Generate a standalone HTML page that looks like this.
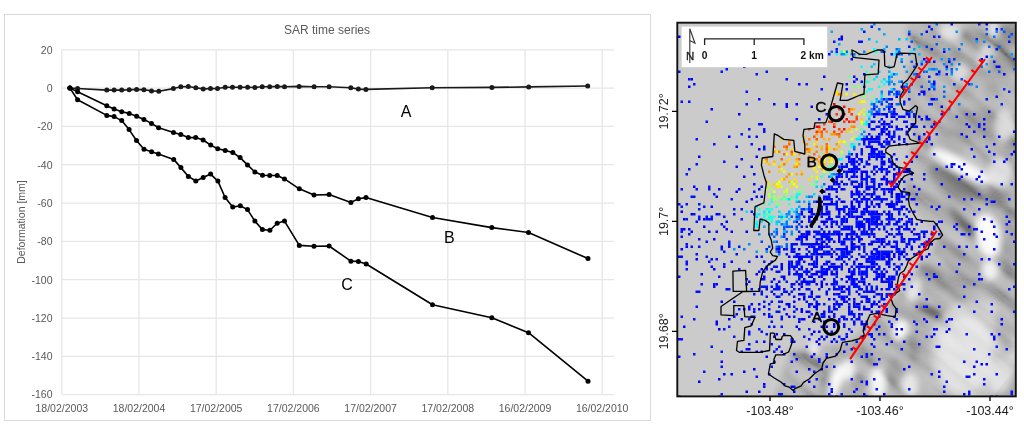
<!DOCTYPE html>
<html><head><meta charset="utf-8"><title>SAR time series</title>
<style>html,body{margin:0;padding:0;background:#fff;width:1024px;height:437px;overflow:hidden}
svg{display:block;font-family:"Liberation Sans",Arial,sans-serif}</style></head>
<body><svg width="1024" height="437" viewBox="0 0 1024 437">
<rect x="4.5" y="14.5" width="646" height="406" fill="#fff" stroke="#d9d9d9" stroke-width="1"/>
<path d="M61.8 49.8H614M61.8 88.1H614M61.8 126.4H614M61.8 164.7H614M61.8 203H614M61.8 241.4H614M61.8 279.7H614M61.8 318H614M61.8 356.3H614M61.8 394.6H614M61.8 49.8V394.6M139 49.8V394.6M216.2 49.8V394.6M293.4 49.8V394.6M370.6 49.8V394.6M447.8 49.8V394.6M525 49.8V394.6M602.2 49.8V394.6" stroke="#e6e6e6" stroke-width="1.25" fill="none"/>
<text x="52.5" y="53.6" text-anchor="end" font-size="10.5" fill="#595959">20</text>
<text x="52.5" y="91.9" text-anchor="end" font-size="10.5" fill="#595959">0</text>
<text x="52.5" y="130.2" text-anchor="end" font-size="10.5" fill="#595959">-20</text>
<text x="52.5" y="168.5" text-anchor="end" font-size="10.5" fill="#595959">-40</text>
<text x="52.5" y="206.8" text-anchor="end" font-size="10.5" fill="#595959">-60</text>
<text x="52.5" y="245.2" text-anchor="end" font-size="10.5" fill="#595959">-80</text>
<text x="52.5" y="283.5" text-anchor="end" font-size="10.5" fill="#595959">-100</text>
<text x="52.5" y="321.8" text-anchor="end" font-size="10.5" fill="#595959">-120</text>
<text x="52.5" y="360.1" text-anchor="end" font-size="10.5" fill="#595959">-140</text>
<text x="52.5" y="398.4" text-anchor="end" font-size="10.5" fill="#595959">-160</text>
<text x="61.8" y="412" text-anchor="middle" font-size="10.5" fill="#595959">18/02/2003</text>
<text x="139" y="412" text-anchor="middle" font-size="10.5" fill="#595959">18/02/2004</text>
<text x="216.2" y="412" text-anchor="middle" font-size="10.5" fill="#595959">17/02/2005</text>
<text x="293.4" y="412" text-anchor="middle" font-size="10.5" fill="#595959">17/02/2006</text>
<text x="370.6" y="412" text-anchor="middle" font-size="10.5" fill="#595959">17/02/2007</text>
<text x="447.8" y="412" text-anchor="middle" font-size="10.5" fill="#595959">17/02/2008</text>
<text x="525" y="412" text-anchor="middle" font-size="10.5" fill="#595959">16/02/2009</text>
<text x="602.2" y="412" text-anchor="middle" font-size="10.5" fill="#595959">16/02/2010</text>
<text x="327" y="34" text-anchor="middle" font-size="12" fill="#595959">SAR time series</text>
<text transform="translate(24.5 222) rotate(-90)" text-anchor="middle" font-size="10.5" fill="#595959">Deformation [mm]</text>
<polyline points="69.9,88.1 77.6,88.5 106.8,90.1 114.1,90.1 121.7,90.1 129.2,89.7 136.6,89.4 143.9,89.7 151.5,90.9 158.8,91.2 173.4,88.6 180.8,86.7 188.3,86.5 195.8,87.7 203.2,88.9 210.5,88.6 217.5,88.5 225.2,87.3 232.5,87.3 240.1,87.3 247.6,87.3 254.9,87.5 262.2,86.7 269.7,86.7 277.3,86.4 284.5,86.7 299.1,86.4 314.1,86.7 329.1,86.7 350.8,87.7 358.4,89.1 365.9,89.4 432.2,87.7 491.9,87.4 528.7,86.9 587.7,86" fill="none" stroke="#1a1a1a" stroke-width="1.6" stroke-linejoin="round"/>
<g fill="#1a1a1a"><circle cx="69.9" cy="88.1" r="2.5"/><circle cx="77.6" cy="88.5" r="2.5"/><circle cx="106.8" cy="90.1" r="2.5"/><circle cx="114.1" cy="90.1" r="2.5"/><circle cx="121.7" cy="90.1" r="2.5"/><circle cx="129.2" cy="89.7" r="2.5"/><circle cx="136.6" cy="89.4" r="2.5"/><circle cx="143.9" cy="89.7" r="2.5"/><circle cx="151.5" cy="90.9" r="2.5"/><circle cx="158.8" cy="91.2" r="2.5"/><circle cx="173.4" cy="88.6" r="2.5"/><circle cx="180.8" cy="86.7" r="2.5"/><circle cx="188.3" cy="86.5" r="2.5"/><circle cx="195.8" cy="87.7" r="2.5"/><circle cx="203.2" cy="88.9" r="2.5"/><circle cx="210.5" cy="88.6" r="2.5"/><circle cx="217.5" cy="88.5" r="2.5"/><circle cx="225.2" cy="87.3" r="2.5"/><circle cx="232.5" cy="87.3" r="2.5"/><circle cx="240.1" cy="87.3" r="2.5"/><circle cx="247.6" cy="87.3" r="2.5"/><circle cx="254.9" cy="87.5" r="2.5"/><circle cx="262.2" cy="86.7" r="2.5"/><circle cx="269.7" cy="86.7" r="2.5"/><circle cx="277.3" cy="86.4" r="2.5"/><circle cx="284.5" cy="86.7" r="2.5"/><circle cx="299.1" cy="86.4" r="2.5"/><circle cx="314.1" cy="86.7" r="2.5"/><circle cx="329.1" cy="86.7" r="2.5"/><circle cx="350.8" cy="87.7" r="2.5"/><circle cx="358.4" cy="89.1" r="2.5"/><circle cx="365.9" cy="89.4" r="2.5"/><circle cx="432.2" cy="87.7" r="2.5"/><circle cx="491.9" cy="87.4" r="2.5"/><circle cx="528.7" cy="86.9" r="2.5"/><circle cx="587.7" cy="86" r="2.5"/></g>
<polyline points="69.9,88.1 77.6,91.7 106.8,105.8 114.1,109 121.7,111.8 129.2,113.4 136.6,116.3 143.9,119.5 151.5,123.4 158.6,127.8 173.5,132.4 180.8,134.6 188.3,137.6 195.7,137.6 203.1,140 210.7,145.1 217.7,148.8 225.2,150.4 232.8,152.5 240.1,157.6 247.5,164.9 254.9,172 262.5,175.2 269.7,175.5 277.2,175.5 284.5,178.9 299.3,188.8 314,195 329.1,194.6 350.9,202.4 358.4,198.8 366,197.6 432.5,217.5 491.8,227.6 528.5,232.5 588,258.6" fill="none" stroke="#000" stroke-width="1.6" stroke-linejoin="round"/>
<g fill="#000"><circle cx="69.9" cy="88.1" r="2.5"/><circle cx="77.6" cy="91.7" r="2.5"/><circle cx="106.8" cy="105.8" r="2.5"/><circle cx="114.1" cy="109" r="2.5"/><circle cx="121.7" cy="111.8" r="2.5"/><circle cx="129.2" cy="113.4" r="2.5"/><circle cx="136.6" cy="116.3" r="2.5"/><circle cx="143.9" cy="119.5" r="2.5"/><circle cx="151.5" cy="123.4" r="2.5"/><circle cx="158.6" cy="127.8" r="2.5"/><circle cx="173.5" cy="132.4" r="2.5"/><circle cx="180.8" cy="134.6" r="2.5"/><circle cx="188.3" cy="137.6" r="2.5"/><circle cx="195.7" cy="137.6" r="2.5"/><circle cx="203.1" cy="140" r="2.5"/><circle cx="210.7" cy="145.1" r="2.5"/><circle cx="217.7" cy="148.8" r="2.5"/><circle cx="225.2" cy="150.4" r="2.5"/><circle cx="232.8" cy="152.5" r="2.5"/><circle cx="240.1" cy="157.6" r="2.5"/><circle cx="247.5" cy="164.9" r="2.5"/><circle cx="254.9" cy="172" r="2.5"/><circle cx="262.5" cy="175.2" r="2.5"/><circle cx="269.7" cy="175.5" r="2.5"/><circle cx="277.2" cy="175.5" r="2.5"/><circle cx="284.5" cy="178.9" r="2.5"/><circle cx="299.3" cy="188.8" r="2.5"/><circle cx="314" cy="195" r="2.5"/><circle cx="329.1" cy="194.6" r="2.5"/><circle cx="350.9" cy="202.4" r="2.5"/><circle cx="358.4" cy="198.8" r="2.5"/><circle cx="366" cy="197.6" r="2.5"/><circle cx="432.5" cy="217.5" r="2.5"/><circle cx="491.8" cy="227.6" r="2.5"/><circle cx="528.5" cy="232.5" r="2.5"/><circle cx="588" cy="258.6" r="2.5"/></g>
<polyline points="69.9,88.1 77.6,99.7 106.8,115.4 114.1,116.6 121.7,120.6 129.1,129.6 136.5,140.5 144,149.2 151.6,151.7 158.4,154.1 173.7,159.4 180.9,167.6 188.4,176.4 195.8,181 203.2,177.5 210.6,174.1 217.9,181.1 225.1,197.5 232.7,207.1 240.3,205.8 247.5,209.6 254.9,221.1 262.4,229.6 269.9,230.3 277.2,223.2 284.5,221.1 299.3,245.4 314,246.2 329.1,246 350.9,261.2 358.4,261.4 366.2,264 432.5,304.8 491.8,317.8 528.5,332.7 588,381.2" fill="none" stroke="#000" stroke-width="1.6" stroke-linejoin="round"/>
<g fill="#000"><circle cx="69.9" cy="88.1" r="2.5"/><circle cx="77.6" cy="99.7" r="2.5"/><circle cx="106.8" cy="115.4" r="2.5"/><circle cx="114.1" cy="116.6" r="2.5"/><circle cx="121.7" cy="120.6" r="2.5"/><circle cx="129.1" cy="129.6" r="2.5"/><circle cx="136.5" cy="140.5" r="2.5"/><circle cx="144" cy="149.2" r="2.5"/><circle cx="151.6" cy="151.7" r="2.5"/><circle cx="158.4" cy="154.1" r="2.5"/><circle cx="173.7" cy="159.4" r="2.5"/><circle cx="180.9" cy="167.6" r="2.5"/><circle cx="188.4" cy="176.4" r="2.5"/><circle cx="195.8" cy="181" r="2.5"/><circle cx="203.2" cy="177.5" r="2.5"/><circle cx="210.6" cy="174.1" r="2.5"/><circle cx="217.9" cy="181.1" r="2.5"/><circle cx="225.1" cy="197.5" r="2.5"/><circle cx="232.7" cy="207.1" r="2.5"/><circle cx="240.3" cy="205.8" r="2.5"/><circle cx="247.5" cy="209.6" r="2.5"/><circle cx="254.9" cy="221.1" r="2.5"/><circle cx="262.4" cy="229.6" r="2.5"/><circle cx="269.9" cy="230.3" r="2.5"/><circle cx="277.2" cy="223.2" r="2.5"/><circle cx="284.5" cy="221.1" r="2.5"/><circle cx="299.3" cy="245.4" r="2.5"/><circle cx="314" cy="246.2" r="2.5"/><circle cx="329.1" cy="246" r="2.5"/><circle cx="350.9" cy="261.2" r="2.5"/><circle cx="358.4" cy="261.4" r="2.5"/><circle cx="366.2" cy="264" r="2.5"/><circle cx="432.5" cy="304.8" r="2.5"/><circle cx="491.8" cy="317.8" r="2.5"/><circle cx="528.5" cy="332.7" r="2.5"/><circle cx="588" cy="381.2" r="2.5"/></g>
<text x="406" y="116.8" text-anchor="middle" font-size="16" fill="#000">A</text>
<text x="449.3" y="243.4" text-anchor="middle" font-size="16" fill="#000">B</text>
<text x="347.1" y="290.2" text-anchor="middle" font-size="16" fill="#000">C</text>
<defs><clipPath id="mc"><rect x="678" y="23" width="338" height="373"/></clipPath><filter id="bl" x="-50%" y="-50%" width="200%" height="200%"><feGaussianBlur stdDeviation="3"/></filter></defs>
<g clip-path="url(#mc)">
<rect x="678" y="23" width="338" height="373" fill="#cbcbcb"/>
<g filter="url(#bl)">
<path d="M905 10L1030 10L1030 410L770 410L790 352L850 342L872 318L900 292L925 262L942 236L925 220L906 200L905 170L915 140L910 110L905 90L912 50Z" fill="#a6a6a6"/>
<ellipse cx="951" cy="31" rx="12.0" ry="9.0" transform="rotate(0 951 31)" fill="#dcdcdc" opacity="1"/>
<ellipse cx="976" cy="40" rx="16.8" ry="9.6" transform="rotate(20 976 40)" fill="#8e8e8e" opacity="1"/>
<ellipse cx="1008" cy="36" rx="12.0" ry="13.2" transform="rotate(0 1008 36)" fill="#7a7a7a" opacity="1"/>
<ellipse cx="994" cy="29" rx="4.0" ry="8.0" transform="rotate(0 994 29)" fill="#e6e6e6" opacity="1"/>
<ellipse cx="954" cy="57" rx="7.2" ry="7.2" transform="rotate(0 954 57)" fill="#8e8e8e" opacity="1"/>
<ellipse cx="932" cy="48" rx="8.4" ry="21.6" transform="rotate(10 932 48)" fill="#9e9e9e" opacity="1"/>
<ellipse cx="1004" cy="64" rx="14.4" ry="12.0" transform="rotate(0 1004 64)" fill="#8e8e8e" opacity="1"/>
<ellipse cx="992" cy="92" rx="9.6" ry="9.6" transform="rotate(0 992 92)" fill="#8e8e8e" opacity="1"/>
<ellipse cx="965" cy="92" rx="12.0" ry="7.2" transform="rotate(0 965 92)" fill="#969696" opacity="1"/>
<ellipse cx="960" cy="72" rx="8.0" ry="8.0" transform="rotate(0 960 72)" fill="#d8d8d8" opacity="1"/>
<ellipse cx="985" cy="55" rx="6.0" ry="12.0" transform="rotate(20 985 55)" fill="#d0d0d0" opacity="1"/>
<ellipse cx="980" cy="124" rx="24.0" ry="12.0" transform="rotate(25 980 124)" fill="#8e8e8e" opacity="1"/>
<ellipse cx="950" cy="145" rx="16.8" ry="7.2" transform="rotate(25 950 145)" fill="#8e8e8e" opacity="1"/>
<ellipse cx="960" cy="166" rx="35.0" ry="7.0" transform="rotate(29 960 166)" fill="#fafafa" opacity="1"/>
<ellipse cx="955" cy="184" rx="32.0" ry="9.5" transform="rotate(30 955 184)" fill="#6e6e6e" opacity="1"/>
<ellipse cx="956" cy="137" rx="14.0" ry="8.0" transform="rotate(25 956 137)" fill="#959595" opacity="1"/>
<ellipse cx="1005" cy="125" rx="10.0" ry="16.0" transform="rotate(0 1005 125)" fill="#d8d8d8" opacity="1"/>
<ellipse cx="1000" cy="172" rx="12.0" ry="14.0" transform="rotate(0 1000 172)" fill="#d8d8d8" opacity="1"/>
<ellipse cx="1011" cy="150" rx="7.2" ry="12.0" transform="rotate(0 1011 150)" fill="#888888" opacity="1"/>
<ellipse cx="935" cy="118" rx="9.6" ry="14.4" transform="rotate(0 935 118)" fill="#a2a2a2" opacity="1"/>
<ellipse cx="998" cy="196" rx="14.4" ry="7.2" transform="rotate(0 998 196)" fill="#878787" opacity="1"/>
<ellipse cx="966" cy="226" rx="25.2" ry="4.8" transform="rotate(47 966 226)" fill="#5e5e5e" opacity="1"/>
<ellipse cx="952" cy="250" rx="19.2" ry="4.8" transform="rotate(35 952 250)" fill="#7e7e7e" opacity="1"/>
<ellipse cx="988" cy="236" rx="12.0" ry="22.0" transform="rotate(-10 988 236)" fill="#fafafa" opacity="1"/>
<ellipse cx="1009" cy="245" rx="7.2" ry="36.0" transform="rotate(0 1009 245)" fill="#8e8e8e" opacity="1"/>
<ellipse cx="955" cy="268" rx="16.8" ry="9.6" transform="rotate(0 955 268)" fill="#9e9e9e" opacity="1"/>
<ellipse cx="990" cy="270" rx="8.0" ry="10.0" transform="rotate(0 990 270)" fill="#eeeeee" opacity="1"/>
<ellipse cx="975" cy="350" rx="45.0" ry="50.0" transform="rotate(0 975 350)" fill="#c8c8c8" opacity="1"/>
<ellipse cx="931" cy="272" rx="14.4" ry="4.2" transform="rotate(30 931 272)" fill="#686868" opacity="1"/>
<ellipse cx="914" cy="290" rx="6.0" ry="12.0" transform="rotate(20 914 290)" fill="#e0e0e0" opacity="1"/>
<ellipse cx="930" cy="311" rx="15.6" ry="6.0" transform="rotate(15 930 311)" fill="#626262" opacity="1"/>
<ellipse cx="900" cy="330" rx="7.0" ry="10.0" transform="rotate(20 900 330)" fill="#f8f8f8" opacity="1"/>
<ellipse cx="958" cy="284" rx="21.6" ry="7.2" transform="rotate(0 958 284)" fill="#8e8e8e" opacity="1"/>
<ellipse cx="965" cy="355" rx="28.0" ry="38.0" transform="rotate(0 965 355)" fill="#dedede" opacity="1"/>
<ellipse cx="914" cy="346" rx="6.0" ry="16.8" transform="rotate(0 914 346)" fill="#888888" opacity="1"/>
<ellipse cx="1006" cy="320" rx="10.8" ry="36.0" transform="rotate(0 1006 320)" fill="#a4a4a4" opacity="1"/>
<ellipse cx="1000" cy="375" rx="12.0" ry="18.0" transform="rotate(0 1000 375)" fill="#d8d8d8" opacity="1"/>
<ellipse cx="806" cy="366" rx="14.4" ry="16.8" transform="rotate(0 806 366)" fill="#a8a8a8" opacity="1"/>
<ellipse cx="814" cy="349" rx="4.0" ry="8.0" transform="rotate(0 814 349)" fill="#f0f0f0" opacity="1"/>
<ellipse cx="836" cy="380" rx="6.0" ry="17.0" transform="rotate(20 836 380)" fill="#fafafa" opacity="1"/>
<ellipse cx="824" cy="386" rx="6.0" ry="12.0" transform="rotate(0 824 386)" fill="#7e7e7e" opacity="1"/>
<ellipse cx="848" cy="370" rx="7.0" ry="10.0" transform="rotate(0 848 370)" fill="#f4f4f4" opacity="1"/>
<ellipse cx="858" cy="386" rx="7.2" ry="12.0" transform="rotate(0 858 386)" fill="#8e8e8e" opacity="1"/>
<ellipse cx="878" cy="382" rx="8.0" ry="16.0" transform="rotate(0 878 382)" fill="#f4f4f4" opacity="1"/>
<ellipse cx="894" cy="372" rx="8.4" ry="14.4" transform="rotate(0 894 372)" fill="#8a8a8a" opacity="1"/>
<ellipse cx="910" cy="385" rx="8.0" ry="12.0" transform="rotate(0 910 385)" fill="#e0e0e0" opacity="1"/>
</g>
<defs><filter id="rl" x="600" y="-100" width="500" height="600" filterUnits="userSpaceOnUse"><feTurbulence type="fractalNoise" baseFrequency="0.0125 0.04" numOctaves="2" seed="5" result="n"/><feColorMatrix in="n" type="matrix" values="0 0 0 0 0  0 0 0 0 0  0 0 0 0 0  1 0 0 0 0" result="a"/><feDiffuseLighting in="a" surfaceScale="5" diffuseConstant="1" lighting-color="#ffffff" result="l"><feDistantLight azimuth="225" elevation="40"/></feDiffuseLighting><feColorMatrix in="l" type="saturate" values="0" result="g"/><feComponentTransfer in="g"><feFuncR type="linear" slope="1.6" intercept="-0.6"/><feFuncG type="linear" slope="1.6" intercept="-0.6"/><feFuncB type="linear" slope="1.6" intercept="-0.6"/></feComponentTransfer></filter><mask id="hm" maskUnits="userSpaceOnUse" x="600" y="0" width="450" height="437"><path filter="url(#bl2)" fill="#fff" d="M905 10L1030 10L1030 410L770 410L790 352L850 342L872 318L900 292L925 262L942 236L925 220L906 200L905 170L915 140L910 110L905 90L912 50Z"/></mask><filter id="bl2" x="-20%" y="-20%" width="140%" height="140%"><feGaussianBlur stdDeviation="5"/></filter></defs>
<g mask="url(#hm)" opacity="0.45" style="mix-blend-mode:overlay"><g transform="rotate(40 940 210)"><rect x="760" y="0" width="380" height="420" filter="url(#rl)"/></g></g>
<g transform="translate(678 23) scale(2.5)">
<path fill="#0088ff" d="M78 0h1v1h-1zM127 3h1v1h-1zM122 7h1v1h-1zM113 8h1v1h-1zM83 9h1v1h-1zM108 10h1v1h-1zM74 11h1v1h-1zM65 12h1v1h-1zM69 12h1v1h-1zM87 13h1v1h-1zM106 16h1v1h-1zM109 16h1v1h-1zM90 17h1v1h-1zM101 18h1v1h-1zM107 18h1v1h-1zM84 21h1v1h-1zM84 23h1v1h-1zM84 24h1v1h-1zM117 24h1v1h-1zM101 25h2v1h-2zM119 25h1v1h-1zM81 27h1v1h-1zM77 32h1v1h-1zM77 34h1v1h-1zM77 36h1v1h-1zM74 43h1v1h-1zM60 61h1v1h-1zM53 69h1v1h-1zM48 71h1v1h-1zM44 75h1v1h-1zM43 76h1v1h-1zM48 78h1v1h-1zM32 84h1v1h-1zM45 84h1v1h-1zM28 88h1v1h-1zM41 89h1v1h-1zM39 91h1v1h-1z"/>
<path fill="#0066ff" d="M103 0h1v1h-1zM80 2h1v1h-1zM124 9h1v1h-1zM128 9h1v1h-1zM87 10h1v1h-1zM112 10h1v1h-1zM61 11h1v1h-1zM67 11h1v1h-1zM92 12h1v1h-1zM108 14h1v1h-1zM89 15h1v1h-1zM112 16h1v1h-1zM134 18h1v1h-1zM98 19h1v1h-1zM124 19h1v1h-1zM86 20h1v1h-1zM88 27h1v1h-1zM106 27h1v1h-1zM106 29h1v1h-1zM87 32h2v1h-2zM79 33h1v1h-1zM80 34h1v1h-1zM80 35h1v1h-1zM93 35h1v1h-1zM70 50h1v1h-1zM58 64h1v1h-1zM47 75h1v1h-1zM48 76h1v1h-1zM48 77h1v1h-1zM42 81h1v1h-1zM47 82h1v1h-1zM39 84h1v1h-1zM38 85h1v1h-1zM43 88h1v1h-1zM39 89h1v1h-1zM43 89h1v1h-1z"/>
<path fill="#0011ff" d="M109 0h1v1h-1zM77 1h1v1h-1zM100 1h1v1h-1zM27 2h1v1h-1zM34 3h1v1h-1zM74 3h1v1h-1zM92 4h1v1h-1zM36 5h1v1h-1zM102 5h1v1h-1zM16 6h1v1h-1zM23 6h1v1h-1zM64 6h1v1h-1zM47 7h1v1h-1zM62 7h1v1h-1zM72 7h2v1h-2zM132 7h1v1h-1zM38 8h1v1h-1zM46 9h1v1h-1zM92 9h1v1h-1zM63 10h1v1h-1zM101 10h1v1h-1zM127 10h1v1h-1zM82 11h1v1h-1zM7 12h1v1h-1zM40 12h1v1h-1zM50 12h1v1h-1zM60 12h1v1h-1zM85 12h1v1h-1zM34 13h1v1h-1zM12 14h1v1h-1zM13 15h1v1h-1zM99 15h1v1h-1zM102 15h1v1h-1zM126 15h1v1h-1zM9 16h1v1h-1zM26 17h1v1h-1zM127 17h1v1h-1zM19 18h1v1h-1zM0 19h1v1h-1zM17 19h1v1h-1zM35 19h1v1h-1zM31 20h1v1h-1zM107 20h1v1h-1zM70 21h1v1h-1zM95 21h1v1h-1zM100 21h1v1h-1zM4 22h1v1h-1zM71 22h1v1h-1zM70 23h1v1h-1zM73 23h1v1h-1zM102 23h1v1h-1zM6 24h1v1h-1zM51 24h1v1h-1zM110 24h1v1h-1zM74 25h1v1h-1zM89 25h1v1h-1zM57 26h1v1h-1zM67 26h1v1h-1zM100 26h1v1h-1zM27 27h1v1h-1zM97 27h1v1h-1zM96 28h1v1h-1zM98 28h1v1h-1zM32 30h1v1h-1zM82 30h1v1h-1zM84 30h2v1h-2zM92 30h1v1h-1zM123 30h1v1h-1zM1 31h1v1h-1zM4 31h1v1h-1zM90 31h1v1h-1zM27 32h1v1h-1zM78 34h1v1h-1zM59 36h1v1h-1zM78 36h2v1h-2zM81 36h1v1h-1zM85 36h3v1h-3zM92 36h1v1h-1zM94 36h1v1h-1zM105 36h1v1h-1zM88 37h2v1h-2zM92 37h1v1h-1zM94 37h1v1h-1zM96 37h1v1h-1zM111 37h1v1h-1zM81 38h1v1h-1zM87 38h1v1h-1zM99 38h2v1h-2zM11 39h1v1h-1zM78 39h1v1h-1zM80 39h1v1h-1zM90 39h2v1h-2zM104 39h1v1h-1zM32 40h2v1h-2zM76 40h1v1h-1zM81 40h2v1h-2zM84 40h1v1h-1zM120 40h1v1h-1zM122 40h1v1h-1zM76 41h1v1h-1zM79 41h2v1h-2zM85 41h1v1h-1zM93 41h3v1h-3zM98 41h1v1h-1zM101 41h1v1h-1zM120 41h1v1h-1zM28 42h1v1h-1zM34 42h1v1h-1zM77 42h1v1h-1zM82 42h1v1h-1zM87 42h2v1h-2zM122 42h1v1h-1zM34 43h1v1h-1zM86 43h1v1h-1zM91 43h1v1h-1zM118 43h1v1h-1zM25 44h1v1h-1zM76 44h1v1h-1zM81 44h1v1h-1zM86 44h1v1h-1zM91 44h1v1h-1zM94 44h1v1h-1zM103 44h1v1h-1zM28 45h1v1h-1zM31 45h1v1h-1zM75 45h1v1h-1zM80 45h1v1h-1zM85 45h2v1h-2zM88 45h1v1h-1zM115 45h1v1h-1zM128 45h1v1h-1zM7 46h1v1h-1zM80 46h1v1h-1zM88 46h1v1h-1zM100 46h1v1h-1zM76 47h4v1h-4zM83 47h1v1h-1zM90 47h1v1h-1zM14 48h1v1h-1zM29 48h1v1h-1zM74 48h1v1h-1zM76 48h1v1h-1zM80 48h2v1h-2zM83 48h2v1h-2zM91 48h1v1h-1zM101 48h1v1h-1zM134 48h1v1h-1zM34 49h1v1h-1zM81 49h2v1h-2zM123 49h1v1h-1zM135 49h1v1h-1zM34 50h1v1h-1zM73 50h1v1h-1zM73 51h1v1h-1zM80 51h1v1h-1zM124 51h1v1h-1zM69 52h1v1h-1zM73 52h1v1h-1zM76 52h4v1h-4zM81 52h2v1h-2zM86 52h1v1h-1zM102 52h1v1h-1zM126 52h1v1h-1zM133 52h1v1h-1zM77 53h1v1h-1zM79 53h1v1h-1zM85 53h1v1h-1zM91 53h1v1h-1zM118 53h1v1h-1zM69 54h1v1h-1zM72 54h2v1h-2zM79 54h1v1h-1zM81 54h1v1h-1zM84 54h1v1h-1zM87 54h1v1h-1zM131 54h1v1h-1zM18 55h1v1h-1zM68 55h2v1h-2zM71 55h1v1h-1zM73 55h1v1h-1zM75 55h1v1h-1zM84 55h2v1h-2zM93 55h1v1h-1zM126 55h1v1h-1zM7 56h1v1h-1zM67 56h1v1h-1zM69 56h2v1h-2zM75 56h1v1h-1zM81 56h1v1h-1zM85 56h1v1h-1zM110 56h1v1h-1zM66 57h2v1h-2zM70 57h2v1h-2zM78 57h2v1h-2zM85 57h1v1h-1zM107 57h1v1h-1zM109 57h1v1h-1zM4 58h1v1h-1zM68 58h1v1h-1zM70 58h2v1h-2zM78 58h1v1h-1zM80 58h3v1h-3zM88 58h1v1h-1zM90 58h1v1h-1zM103 58h1v1h-1zM67 59h1v1h-1zM70 59h1v1h-1zM77 59h1v1h-1zM81 59h1v1h-1zM83 59h2v1h-2zM88 59h1v1h-1zM92 59h1v1h-1zM121 59h1v1h-1zM3 60h1v1h-1zM64 60h2v1h-2zM67 60h1v1h-1zM70 60h1v1h-1zM75 60h1v1h-1zM88 60h1v1h-1zM98 60h1v1h-1zM115 60h1v1h-1zM64 61h1v1h-1zM67 61h1v1h-1zM70 61h1v1h-1zM75 61h2v1h-2zM63 62h1v1h-1zM68 62h1v1h-1zM74 62h2v1h-2zM78 62h1v1h-1zM82 62h1v1h-1zM86 62h1v1h-1zM93 62h1v1h-1zM98 62h1v1h-1zM119 62h1v1h-1zM69 63h3v1h-3zM73 63h1v1h-1zM75 63h1v1h-1zM77 63h2v1h-2zM85 63h2v1h-2zM90 63h1v1h-1zM121 63h1v1h-1zM30 64h1v1h-1zM63 64h1v1h-1zM67 64h1v1h-1zM69 64h1v1h-1zM72 64h1v1h-1zM75 64h1v1h-1zM78 64h1v1h-1zM81 64h1v1h-1zM85 64h1v1h-1zM129 64h1v1h-1zM133 64h1v1h-1zM12 65h1v1h-1zM61 65h1v1h-1zM64 65h1v1h-1zM72 65h1v1h-1zM76 65h3v1h-3zM86 65h2v1h-2zM1 66h1v1h-1zM7 66h1v1h-1zM12 66h1v1h-1zM60 66h1v1h-1zM62 66h2v1h-2zM66 66h1v1h-1zM76 66h1v1h-1zM79 66h1v1h-1zM81 66h1v1h-1zM83 66h1v1h-1zM90 66h1v1h-1zM30 67h1v1h-1zM58 67h1v1h-1zM72 67h1v1h-1zM74 67h1v1h-1zM78 67h1v1h-1zM82 67h1v1h-1zM84 67h1v1h-1zM89 67h1v1h-1zM14 68h1v1h-1zM69 68h2v1h-2zM72 68h1v1h-1zM76 68h1v1h-1zM78 68h1v1h-1zM89 68h1v1h-1zM91 68h2v1h-2zM95 68h1v1h-1zM5 69h2v1h-2zM31 69h1v1h-1zM58 69h3v1h-3zM63 69h1v1h-1zM69 69h1v1h-1zM72 69h1v1h-1zM85 69h1v1h-1zM89 69h2v1h-2zM108 69h1v1h-1zM21 70h1v1h-1zM56 70h1v1h-1zM58 70h1v1h-1zM60 70h2v1h-2zM64 70h1v1h-1zM71 70h1v1h-1zM74 70h2v1h-2zM78 70h6v1h-6zM87 70h1v1h-1zM114 70h1v1h-1zM117 70h1v1h-1zM123 70h1v1h-1zM71 71h1v1h-1zM73 71h1v1h-1zM75 71h1v1h-1zM81 71h1v1h-1zM85 71h1v1h-1zM89 71h1v1h-1zM125 71h1v1h-1zM0 72h1v1h-1zM3 72h1v1h-1zM8 72h1v1h-1zM62 72h2v1h-2zM77 72h1v1h-1zM79 72h1v1h-1zM86 72h1v1h-1zM123 72h1v1h-1zM1 73h1v1h-1zM10 73h1v1h-1zM57 73h1v1h-1zM59 73h1v1h-1zM63 73h1v1h-1zM66 73h2v1h-2zM70 73h1v1h-1zM78 73h1v1h-1zM86 73h1v1h-1zM101 73h1v1h-1zM8 74h1v1h-1zM22 74h1v1h-1zM25 74h1v1h-1zM56 74h2v1h-2zM63 74h1v1h-1zM66 74h1v1h-1zM68 74h1v1h-1zM71 74h1v1h-1zM86 74h4v1h-4zM103 74h1v1h-1zM114 74h1v1h-1zM29 75h1v1h-1zM49 75h1v1h-1zM57 75h1v1h-1zM59 75h2v1h-2zM66 75h1v1h-1zM69 75h3v1h-3zM74 75h1v1h-1zM76 75h1v1h-1zM78 75h1v1h-1zM82 75h1v1h-1zM92 75h1v1h-1zM94 75h1v1h-1zM6 76h1v1h-1zM16 76h1v1h-1zM22 76h1v1h-1zM30 76h1v1h-1zM53 76h2v1h-2zM56 76h1v1h-1zM60 76h1v1h-1zM64 76h1v1h-1zM69 76h1v1h-1zM73 76h2v1h-2zM76 76h2v1h-2zM81 76h1v1h-1zM83 76h1v1h-1zM85 76h1v1h-1zM88 76h1v1h-1zM90 76h1v1h-1zM8 77h1v1h-1zM11 77h1v1h-1zM13 77h1v1h-1zM18 77h1v1h-1zM50 77h1v1h-1zM57 77h1v1h-1zM63 77h1v1h-1zM66 77h1v1h-1zM69 77h2v1h-2zM77 77h4v1h-4zM85 77h1v1h-1zM91 77h1v1h-1zM131 77h1v1h-1zM3 78h1v1h-1zM8 78h1v1h-1zM11 78h3v1h-3zM25 78h1v1h-1zM52 78h1v1h-1zM59 78h1v1h-1zM65 78h2v1h-2zM74 78h1v1h-1zM77 78h2v1h-2zM80 78h1v1h-1zM83 78h4v1h-4zM88 78h1v1h-1zM92 78h1v1h-1zM122 78h1v1h-1zM7 79h1v1h-1zM52 79h1v1h-1zM61 79h2v1h-2zM65 79h2v1h-2zM71 79h3v1h-3zM77 79h1v1h-1zM81 79h1v1h-1zM88 79h1v1h-1zM91 79h1v1h-1zM93 79h1v1h-1zM104 79h1v1h-1zM17 80h1v1h-1zM53 80h1v1h-1zM58 80h1v1h-1zM61 80h1v1h-1zM65 80h1v1h-1zM71 80h1v1h-1zM74 80h1v1h-1zM77 80h5v1h-5zM84 80h1v1h-1zM86 80h2v1h-2zM91 80h1v1h-1zM95 80h1v1h-1zM103 80h1v1h-1zM131 80h1v1h-1zM135 80h1v1h-1zM18 81h1v1h-1zM49 81h1v1h-1zM51 81h1v1h-1zM53 81h1v1h-1zM64 81h1v1h-1zM66 81h2v1h-2zM69 81h1v1h-1zM71 81h1v1h-1zM74 81h1v1h-1zM79 81h1v1h-1zM82 81h1v1h-1zM89 81h1v1h-1zM91 81h1v1h-1zM110 81h1v1h-1zM126 81h1v1h-1zM1 82h1v1h-1zM57 82h1v1h-1zM66 82h2v1h-2zM69 82h1v1h-1zM74 82h1v1h-1zM77 82h2v1h-2zM80 82h1v1h-1zM82 82h1v1h-1zM85 82h1v1h-1zM87 82h1v1h-1zM90 82h2v1h-2zM111 82h1v1h-1zM118 82h2v1h-2zM1 83h1v1h-1zM48 83h1v1h-1zM54 83h3v1h-3zM60 83h1v1h-1zM62 83h3v1h-3zM69 83h1v1h-1zM73 83h2v1h-2zM77 83h1v1h-1zM88 83h1v1h-1zM97 83h3v1h-3zM131 83h1v1h-1zM4 84h1v1h-1zM49 84h2v1h-2zM55 84h5v1h-5zM61 84h2v1h-2zM65 84h1v1h-1zM68 84h2v1h-2zM71 84h1v1h-1zM74 84h2v1h-2zM77 84h2v1h-2zM85 84h1v1h-1zM88 84h2v1h-2zM94 84h1v1h-1zM96 84h1v1h-1zM98 84h1v1h-1zM101 84h1v1h-1zM104 84h1v1h-1zM114 84h1v1h-1zM133 84h1v1h-1zM1 85h1v1h-1zM48 85h2v1h-2zM54 85h1v1h-1zM57 85h4v1h-4zM71 85h2v1h-2zM76 85h1v1h-1zM86 85h1v1h-1zM8 86h1v1h-1zM49 86h1v1h-1zM56 86h1v1h-1zM60 86h2v1h-2zM66 86h3v1h-3zM70 86h1v1h-1zM80 86h1v1h-1zM82 86h1v1h-1zM89 86h1v1h-1zM92 86h5v1h-5zM100 86h1v1h-1zM122 86h1v1h-1zM11 87h1v1h-1zM20 87h1v1h-1zM49 87h1v1h-1zM55 87h1v1h-1zM57 87h1v1h-1zM60 87h1v1h-1zM65 87h1v1h-1zM69 87h1v1h-1zM77 87h1v1h-1zM79 87h2v1h-2zM86 87h2v1h-2zM89 87h2v1h-2zM92 87h1v1h-1zM94 87h1v1h-1zM99 87h2v1h-2zM3 88h1v1h-1zM20 88h1v1h-1zM45 88h3v1h-3zM49 88h5v1h-5zM56 88h1v1h-1zM66 88h1v1h-1zM73 88h1v1h-1zM84 88h1v1h-1zM87 88h1v1h-1zM91 88h2v1h-2zM97 88h2v1h-2zM100 88h1v1h-1zM5 89h1v1h-1zM8 89h1v1h-1zM20 89h1v1h-1zM24 89h1v1h-1zM45 89h1v1h-1zM53 89h2v1h-2zM59 89h2v1h-2zM67 89h1v1h-1zM70 89h2v1h-2zM74 89h1v1h-1zM80 89h1v1h-1zM87 89h1v1h-1zM115 89h1v1h-1zM119 89h1v1h-1zM17 90h1v1h-1zM35 90h1v1h-1zM39 90h1v1h-1zM43 90h1v1h-1zM45 90h2v1h-2zM51 90h1v1h-1zM54 90h3v1h-3zM61 90h1v1h-1zM63 90h3v1h-3zM70 90h1v1h-1zM72 90h1v1h-1zM74 90h1v1h-1zM78 90h2v1h-2zM88 90h1v1h-1zM90 90h1v1h-1zM18 91h1v1h-1zM45 91h1v1h-1zM52 91h1v1h-1zM54 91h2v1h-2zM58 91h1v1h-1zM62 91h1v1h-1zM65 91h2v1h-2zM68 91h2v1h-2zM74 91h1v1h-1zM79 91h1v1h-1zM81 91h4v1h-4zM87 91h2v1h-2zM96 91h1v1h-1zM7 92h1v1h-1zM23 92h1v1h-1zM43 92h1v1h-1zM47 92h2v1h-2zM51 92h1v1h-1zM53 92h2v1h-2zM58 92h4v1h-4zM63 92h1v1h-1zM65 92h2v1h-2zM68 92h1v1h-1zM72 92h1v1h-1zM75 92h1v1h-1zM78 92h2v1h-2zM81 92h1v1h-1zM91 92h1v1h-1zM94 92h1v1h-1zM114 92h1v1h-1zM0 93h2v1h-2zM11 93h1v1h-1zM33 93h1v1h-1zM46 93h2v1h-2zM50 93h3v1h-3zM55 93h1v1h-1zM57 93h1v1h-1zM65 93h3v1h-3zM69 93h1v1h-1zM74 93h1v1h-1zM76 93h3v1h-3zM81 93h2v1h-2zM88 93h1v1h-1zM90 93h1v1h-1zM13 94h1v1h-1zM15 94h1v1h-1zM64 94h1v1h-1zM68 94h1v1h-1zM75 94h1v1h-1zM77 94h4v1h-4zM82 94h1v1h-1zM85 94h1v1h-1zM92 94h1v1h-1zM121 94h1v1h-1zM124 94h1v1h-1zM3 95h1v1h-1zM12 95h1v1h-1zM28 95h1v1h-1zM34 95h1v1h-1zM37 95h1v1h-1zM44 95h1v1h-1zM47 95h1v1h-1zM54 95h1v1h-1zM59 95h1v1h-1zM75 95h3v1h-3zM3 96h1v1h-1zM18 96h1v1h-1zM45 96h1v1h-1zM47 96h2v1h-2zM52 96h1v1h-1zM54 96h1v1h-1zM59 96h1v1h-1zM61 96h2v1h-2zM65 96h1v1h-1zM70 96h1v1h-1zM78 96h1v1h-1zM84 96h1v1h-1zM86 96h1v1h-1zM89 96h1v1h-1zM134 96h1v1h-1zM13 97h1v1h-1zM35 97h1v1h-1zM38 97h2v1h-2zM45 97h3v1h-3zM54 97h2v1h-2zM65 97h1v1h-1zM69 97h1v1h-1zM72 97h3v1h-3zM77 97h1v1h-1zM80 97h1v1h-1zM88 97h1v1h-1zM95 97h1v1h-1zM3 98h1v1h-1zM24 98h1v1h-1zM35 98h1v1h-1zM37 98h1v1h-1zM46 98h1v1h-1zM49 98h1v1h-1zM51 98h1v1h-1zM57 98h2v1h-2zM60 98h1v1h-1zM62 98h2v1h-2zM65 98h1v1h-1zM70 98h1v1h-1zM75 98h1v1h-1zM77 98h1v1h-1zM80 98h1v1h-1zM82 98h1v1h-1zM86 98h1v1h-1zM88 98h1v1h-1zM32 99h1v1h-1zM39 99h2v1h-2zM44 99h1v1h-1zM50 99h2v1h-2zM56 99h2v1h-2zM61 99h1v1h-1zM69 99h2v1h-2zM72 99h1v1h-1zM74 99h2v1h-2zM78 99h2v1h-2zM81 99h1v1h-1zM87 99h1v1h-1zM111 99h1v1h-1zM46 100h4v1h-4zM51 100h1v1h-1zM53 100h1v1h-1zM57 100h1v1h-1zM62 100h1v1h-1zM72 100h1v1h-1zM74 100h2v1h-2zM79 100h1v1h-1zM81 100h1v1h-1zM87 100h1v1h-1zM99 100h1v1h-1zM102 100h1v1h-1zM120 100h1v1h-1zM0 101h1v1h-1zM16 101h1v1h-1zM41 101h1v1h-1zM48 101h2v1h-2zM57 101h1v1h-1zM63 101h1v1h-1zM73 101h1v1h-1zM75 101h1v1h-1zM81 101h1v1h-1zM84 101h1v1h-1zM86 101h1v1h-1zM90 101h1v1h-1zM27 102h1v1h-1zM34 102h1v1h-1zM48 102h1v1h-1zM62 102h1v1h-1zM65 102h1v1h-1zM69 102h1v1h-1zM71 102h1v1h-1zM74 102h1v1h-1zM78 102h1v1h-1zM84 102h3v1h-3zM100 102h1v1h-1zM121 102h1v1h-1zM28 103h1v1h-1zM37 103h1v1h-1zM43 103h1v1h-1zM47 103h1v1h-1zM52 103h2v1h-2zM62 103h2v1h-2zM69 103h1v1h-1zM73 103h1v1h-1zM82 103h3v1h-3zM9 104h1v1h-1zM14 104h1v1h-1zM27 104h1v1h-1zM39 104h1v1h-1zM46 104h1v1h-1zM49 104h1v1h-1zM51 104h2v1h-2zM61 104h1v1h-1zM63 104h1v1h-1zM70 104h2v1h-2zM84 104h2v1h-2zM89 104h2v1h-2zM118 104h1v1h-1zM135 104h1v1h-1zM14 105h1v1h-1zM33 105h3v1h-3zM37 105h1v1h-1zM39 105h2v1h-2zM45 105h1v1h-1zM62 105h1v1h-1zM64 105h1v1h-1zM68 105h1v1h-1zM70 105h3v1h-3zM75 105h1v1h-1zM77 105h1v1h-1zM79 105h1v1h-1zM84 105h2v1h-2zM87 105h1v1h-1zM93 105h1v1h-1zM114 105h1v1h-1zM134 105h1v1h-1zM20 106h1v1h-1zM29 106h1v1h-1zM32 106h1v1h-1zM38 106h3v1h-3zM46 106h1v1h-1zM51 106h2v1h-2zM56 106h1v1h-1zM60 106h1v1h-1zM64 106h1v1h-1zM68 106h1v1h-1zM72 106h2v1h-2zM75 106h1v1h-1zM77 106h1v1h-1zM81 106h1v1h-1zM84 106h1v1h-1zM90 106h1v1h-1zM132 106h1v1h-1zM7 107h2v1h-2zM33 107h1v1h-1zM37 107h1v1h-1zM42 107h2v1h-2zM45 107h1v1h-1zM65 107h2v1h-2zM68 107h1v1h-1zM71 107h1v1h-1zM75 107h3v1h-3zM30 108h1v1h-1zM33 108h1v1h-1zM38 108h1v1h-1zM41 108h1v1h-1zM50 108h1v1h-1zM59 108h1v1h-1zM63 108h1v1h-1zM68 108h1v1h-1zM79 108h1v1h-1zM81 108h1v1h-1zM83 108h4v1h-4zM35 109h1v1h-1zM40 109h1v1h-1zM52 109h2v1h-2zM55 109h1v1h-1zM64 109h1v1h-1zM66 109h1v1h-1zM73 109h3v1h-3zM81 109h1v1h-1zM83 109h1v1h-1zM85 109h1v1h-1zM114 109h1v1h-1zM54 110h1v1h-1zM76 110h1v1h-1zM81 110h1v1h-1zM34 111h1v1h-1zM37 111h1v1h-1zM40 111h1v1h-1zM51 111h1v1h-1zM55 111h1v1h-1zM63 111h1v1h-1zM67 111h1v1h-1zM70 111h1v1h-1zM75 111h2v1h-2zM78 111h1v1h-1zM119 111h1v1h-1zM36 112h1v1h-1zM52 112h2v1h-2zM56 112h1v1h-1zM58 112h1v1h-1zM63 112h3v1h-3zM68 112h1v1h-1zM70 112h1v1h-1zM78 112h1v1h-1zM82 112h1v1h-1zM125 112h1v1h-1zM7 113h1v1h-1zM40 113h1v1h-1zM46 113h1v1h-1zM52 113h1v1h-1zM60 113h1v1h-1zM62 113h1v1h-1zM64 113h1v1h-1zM70 113h3v1h-3zM74 113h1v1h-1zM98 113h1v1h-1zM112 113h1v1h-1zM24 114h1v1h-1zM28 114h1v1h-1zM30 114h1v1h-1zM36 114h1v1h-1zM42 114h1v1h-1zM47 114h1v1h-1zM60 114h1v1h-1zM62 114h2v1h-2zM68 114h1v1h-1zM72 114h1v1h-1zM87 114h1v1h-1zM39 115h2v1h-2zM46 115h1v1h-1zM52 115h1v1h-1zM60 115h1v1h-1zM68 115h1v1h-1zM79 115h1v1h-1zM118 115h1v1h-1zM134 115h1v1h-1zM23 116h1v1h-1zM36 116h1v1h-1zM53 116h1v1h-1zM58 116h1v1h-1zM62 116h1v1h-1zM68 116h3v1h-3zM73 116h1v1h-1zM1 117h1v1h-1zM22 117h1v1h-1zM30 117h1v1h-1zM36 117h1v1h-1zM41 117h1v1h-1zM46 117h1v1h-1zM57 117h2v1h-2zM62 117h1v1h-1zM65 117h2v1h-2zM70 117h1v1h-1zM72 117h1v1h-1zM80 117h1v1h-1zM103 117h1v1h-1zM6 118h1v1h-1zM25 118h1v1h-1zM28 118h1v1h-1zM41 118h1v1h-1zM48 118h1v1h-1zM56 118h1v1h-1zM61 118h1v1h-1zM67 118h1v1h-1zM69 118h1v1h-1zM71 118h1v1h-1zM87 118h1v1h-1zM108 118h1v1h-1zM37 119h1v1h-1zM54 119h1v1h-1zM58 119h1v1h-1zM73 119h1v1h-1zM84 119h1v1h-1zM94 119h1v1h-1zM29 120h1v1h-1zM66 120h1v1h-1zM70 120h1v1h-1zM74 120h1v1h-1zM78 120h1v1h-1zM85 120h1v1h-1zM95 120h1v1h-1zM20 121h1v1h-1zM36 121h1v1h-1zM38 121h1v1h-1zM41 121h1v1h-1zM66 121h1v1h-1zM80 121h1v1h-1zM18 122h1v1h-1zM32 122h1v1h-1zM48 122h1v1h-1zM52 122h1v1h-1zM68 122h1v1h-1zM79 122h1v1h-1zM87 122h1v1h-1zM103 122h1v1h-1zM28 123h1v1h-1zM33 123h1v1h-1zM59 123h1v1h-1zM61 123h1v1h-1zM95 123h1v1h-1zM28 124h1v1h-1zM35 124h1v1h-1zM53 124h1v1h-1zM67 124h1v1h-1zM76 124h2v1h-2zM80 124h1v1h-1zM102 124h1v1h-1zM115 124h1v1h-1zM22 125h1v1h-1zM38 125h1v1h-1zM50 125h1v1h-1zM57 125h1v1h-1zM59 125h1v1h-1zM64 125h1v1h-1zM73 125h2v1h-2zM77 125h1v1h-1zM101 125h1v1h-1zM126 125h1v1h-1zM0 126h2v1h-2zM45 126h1v1h-1zM52 126h1v1h-1zM62 126h1v1h-1zM65 126h1v1h-1zM78 126h1v1h-1zM31 127h1v1h-1zM45 127h1v1h-1zM63 127h1v1h-1zM71 127h1v1h-1zM28 128h1v1h-1zM67 128h1v1h-1zM77 128h1v1h-1zM96 128h1v1h-1zM13 129h1v1h-1zM40 129h1v1h-1zM51 129h1v1h-1zM78 129h1v1h-1zM103 129h1v1h-1zM127 129h1v1h-1zM27 130h1v1h-1zM39 130h1v1h-1zM69 130h1v1h-1zM118 130h1v1h-1zM131 130h1v1h-1zM17 131h1v1h-1zM25 131h1v1h-1zM38 131h1v1h-1zM6 132h1v1h-1zM46 132h1v1h-1zM54 132h1v1h-1zM59 132h1v1h-1zM75 132h1v1h-1zM77 132h1v1h-1zM124 132h1v1h-1zM0 133h1v1h-1zM73 133h1v1h-1zM75 133h1v1h-1zM56 134h1v1h-1zM80 134h1v1h-1zM38 135h1v1h-1zM45 135h1v1h-1zM56 135h1v1h-1zM69 135h1v1h-1zM114 135h1v1h-1zM119 135h1v1h-1zM78 136h2v1h-2zM17 137h1v1h-1zM37 137h1v1h-1zM59 137h1v1h-1zM62 137h1v1h-1zM10 139h1v1h-1zM54 139h1v1h-1zM36 140h1v1h-1zM118 140h1v1h-1zM31 141h1v1h-1zM115 141h2v1h-2zM55 142h1v1h-1zM69 142h1v1h-1zM78 142h1v1h-1zM122 142h1v1h-1zM73 143h1v1h-1zM107 143h1v1h-1zM42 144h1v1h-1zM75 144h1v1h-1zM122 144h1v1h-1zM34 145h1v1h-1zM46 145h1v1h-1zM54 145h1v1h-1zM106 145h1v1h-1zM61 146h1v1h-1zM79 146h1v1h-1zM92 146h1v1h-1zM70 147h1v1h-1zM106 147h1v1h-1zM116 147h1v1h-1zM133 147h1v1h-1zM17 148h1v1h-1zM40 148h2v1h-2zM60 148h1v1h-1zM65 148h1v1h-1zM116 148h1v1h-1zM133 148h1v1h-1zM16 149h1v1h-1zM61 149h1v1h-1zM125 149h1v1h-1z"/>
<path fill="#0022ff" d="M120 0h1v1h-1zM101 2h1v1h-1zM127 2h1v1h-1zM104 5h1v1h-1zM119 6h1v1h-1zM63 11h1v1h-1zM134 14h1v1h-1zM135 16h1v1h-1zM96 21h1v1h-1zM93 24h1v1h-1zM87 27h1v1h-1zM132 27h1v1h-1zM87 28h1v1h-1zM90 32h1v1h-1zM100 32h2v1h-2zM129 32h1v1h-1zM84 33h2v1h-2zM91 35h1v1h-1zM65 56h1v1h-1zM50 74h1v1h-1zM52 74h1v1h-1zM47 77h1v1h-1zM42 84h1v1h-1zM43 86h1v1h-1zM40 89h1v1h-1zM36 96h1v1h-1z"/>
<path fill="#0000ff" d="M123 0h1v1h-1zM99 3h1v1h-1zM49 4h1v1h-1zM0 5h1v1h-1zM65 5h1v1h-1zM65 6h1v1h-1zM18 7h1v1h-1zM28 7h1v1h-1zM35 8h1v1h-1zM45 10h1v1h-1zM6 11h1v1h-1zM106 11h1v1h-1zM123 13h1v1h-1zM69 14h1v1h-1zM98 14h1v1h-1zM121 14h1v1h-1zM108 15h1v1h-1zM107 17h1v1h-1zM128 17h1v1h-1zM104 19h1v1h-1zM74 20h1v1h-1zM103 20h1v1h-1zM130 20h1v1h-1zM58 21h1v1h-1zM5 22h1v1h-1zM43 22h1v1h-1zM48 24h1v1h-1zM67 24h1v1h-1zM102 24h1v1h-1zM4 25h1v1h-1zM98 27h1v1h-1zM127 29h1v1h-1zM101 30h2v1h-2zM38 32h1v1h-1zM43 32h1v1h-1zM47 32h1v1h-1zM43 33h1v1h-1zM53 33h1v1h-1zM13 34h1v1h-1zM86 35h1v1h-1zM24 36h1v1h-1zM80 36h1v1h-1zM82 36h2v1h-2zM91 36h1v1h-1zM115 36h1v1h-1zM118 36h1v1h-1zM78 37h1v1h-1zM83 37h1v1h-1zM85 37h2v1h-2zM90 37h1v1h-1zM99 37h1v1h-1zM47 38h1v1h-1zM56 38h1v1h-1zM97 38h1v1h-1zM122 38h1v1h-1zM77 39h1v1h-1zM82 39h1v1h-1zM85 39h1v1h-1zM83 40h1v1h-1zM93 40h2v1h-2zM102 40h1v1h-1zM115 40h1v1h-1zM82 41h1v1h-1zM84 41h1v1h-1zM87 41h1v1h-1zM91 41h1v1h-1zM116 41h1v1h-1zM78 42h1v1h-1zM81 42h1v1h-1zM83 42h1v1h-1zM89 42h1v1h-1zM92 42h1v1h-1zM81 43h2v1h-2zM84 43h1v1h-1zM134 43h1v1h-1zM80 44h1v1h-1zM83 44h2v1h-2zM98 44h1v1h-1zM113 44h1v1h-1zM20 45h1v1h-1zM77 45h1v1h-1zM79 45h1v1h-1zM84 45h1v1h-1zM96 45h1v1h-1zM100 45h1v1h-1zM122 45h1v1h-1zM135 45h1v1h-1zM74 46h6v1h-6zM83 46h1v1h-1zM85 46h1v1h-1zM90 46h1v1h-1zM96 46h1v1h-1zM74 47h1v1h-1zM80 47h1v1h-1zM82 47h1v1h-1zM84 47h1v1h-1zM86 47h1v1h-1zM99 47h1v1h-1zM88 48h1v1h-1zM126 48h1v1h-1zM23 49h1v1h-1zM75 49h3v1h-3zM32 50h1v1h-1zM77 50h3v1h-3zM117 50h1v1h-1zM77 51h2v1h-2zM81 51h1v1h-1zM134 51h1v1h-1zM71 52h1v1h-1zM80 52h1v1h-1zM8 53h1v1h-1zM31 53h1v1h-1zM68 53h1v1h-1zM71 53h1v1h-1zM76 53h1v1h-1zM78 53h1v1h-1zM80 53h3v1h-3zM95 53h1v1h-1zM25 54h1v1h-1zM68 54h1v1h-1zM70 54h1v1h-1zM76 54h1v1h-1zM70 55h1v1h-1zM81 55h2v1h-2zM130 55h1v1h-1zM72 56h1v1h-1zM76 56h1v1h-1zM82 56h1v1h-1zM86 56h1v1h-1zM109 56h1v1h-1zM114 56h1v1h-1zM23 57h1v1h-1zM29 57h1v1h-1zM65 57h1v1h-1zM74 57h1v1h-1zM81 57h1v1h-1zM84 57h1v1h-1zM87 57h1v1h-1zM112 57h1v1h-1zM65 58h1v1h-1zM69 58h1v1h-1zM72 58h1v1h-1zM83 58h1v1h-1zM86 58h1v1h-1zM91 58h2v1h-2zM113 58h1v1h-1zM66 59h1v1h-1zM68 59h2v1h-2zM71 59h1v1h-1zM73 59h3v1h-3zM79 59h1v1h-1zM90 59h2v1h-2zM30 60h1v1h-1zM73 60h1v1h-1zM78 60h1v1h-1zM83 60h1v1h-1zM86 60h2v1h-2zM93 60h1v1h-1zM26 61h1v1h-1zM63 61h1v1h-1zM65 61h1v1h-1zM69 61h1v1h-1zM71 61h1v1h-1zM73 61h1v1h-1zM82 61h1v1h-1zM86 61h1v1h-1zM113 61h1v1h-1zM120 61h1v1h-1zM73 62h1v1h-1zM77 62h1v1h-1zM81 62h1v1h-1zM83 62h1v1h-1zM89 62h1v1h-1zM112 62h1v1h-1zM62 63h2v1h-2zM65 63h1v1h-1zM83 63h2v1h-2zM88 63h1v1h-1zM62 64h1v1h-1zM64 64h1v1h-1zM66 64h1v1h-1zM73 64h1v1h-1zM80 64h1v1h-1zM83 64h1v1h-1zM87 64h1v1h-1zM105 64h1v1h-1zM6 65h1v1h-1zM33 65h1v1h-1zM60 65h1v1h-1zM70 65h2v1h-2zM73 65h1v1h-1zM75 65h1v1h-1zM80 65h1v1h-1zM94 65h1v1h-1zM16 66h1v1h-1zM24 66h1v1h-1zM32 66h1v1h-1zM61 66h1v1h-1zM65 66h1v1h-1zM71 66h1v1h-1zM75 66h1v1h-1zM78 66h1v1h-1zM82 66h1v1h-1zM84 66h3v1h-3zM96 66h1v1h-1zM23 67h1v1h-1zM63 67h1v1h-1zM69 67h1v1h-1zM71 67h1v1h-1zM85 67h1v1h-1zM60 68h1v1h-1zM71 68h1v1h-1zM73 68h1v1h-1zM75 68h1v1h-1zM77 68h1v1h-1zM82 68h1v1h-1zM85 68h1v1h-1zM87 68h2v1h-2zM120 68h1v1h-1zM15 69h1v1h-1zM33 69h1v1h-1zM74 69h1v1h-1zM77 69h1v1h-1zM79 69h2v1h-2zM87 69h2v1h-2zM29 70h1v1h-1zM59 70h1v1h-1zM70 70h1v1h-1zM73 70h1v1h-1zM76 70h1v1h-1zM88 70h1v1h-1zM91 70h1v1h-1zM93 70h2v1h-2zM132 70h1v1h-1zM27 71h1v1h-1zM56 71h2v1h-2zM61 71h1v1h-1zM63 71h1v1h-1zM65 71h2v1h-2zM69 71h1v1h-1zM72 71h1v1h-1zM77 71h1v1h-1zM87 71h2v1h-2zM126 71h1v1h-1zM56 72h1v1h-1zM58 72h4v1h-4zM69 72h1v1h-1zM72 72h1v1h-1zM75 72h1v1h-1zM80 72h1v1h-1zM83 72h3v1h-3zM87 72h1v1h-1zM95 72h1v1h-1zM13 73h1v1h-1zM69 73h1v1h-1zM72 73h1v1h-1zM75 73h2v1h-2zM80 73h1v1h-1zM84 73h2v1h-2zM89 73h2v1h-2zM104 73h1v1h-1zM135 73h1v1h-1zM53 74h1v1h-1zM59 74h1v1h-1zM64 74h2v1h-2zM69 74h2v1h-2zM74 74h2v1h-2zM91 74h1v1h-1zM120 74h1v1h-1zM1 75h1v1h-1zM52 75h2v1h-2zM64 75h1v1h-1zM68 75h1v1h-1zM73 75h1v1h-1zM75 75h1v1h-1zM77 75h1v1h-1zM79 75h1v1h-1zM84 75h1v1h-1zM88 75h1v1h-1zM5 76h1v1h-1zM15 76h1v1h-1zM49 76h1v1h-1zM57 76h3v1h-3zM67 76h2v1h-2zM78 76h3v1h-3zM84 76h1v1h-1zM118 76h1v1h-1zM52 77h2v1h-2zM55 77h1v1h-1zM60 77h1v1h-1zM64 77h1v1h-1zM68 77h1v1h-1zM71 77h3v1h-3zM84 77h1v1h-1zM2 78h1v1h-1zM10 78h1v1h-1zM54 78h2v1h-2zM60 78h2v1h-2zM67 78h1v1h-1zM71 78h1v1h-1zM75 78h2v1h-2zM79 78h1v1h-1zM89 78h1v1h-1zM93 78h1v1h-1zM19 79h1v1h-1zM47 79h1v1h-1zM49 79h1v1h-1zM53 79h2v1h-2zM57 79h3v1h-3zM63 79h1v1h-1zM67 79h1v1h-1zM75 79h2v1h-2zM78 79h2v1h-2zM84 79h1v1h-1zM87 79h1v1h-1zM92 79h1v1h-1zM97 79h1v1h-1zM105 79h1v1h-1zM125 79h1v1h-1zM132 79h1v1h-1zM63 80h1v1h-1zM72 80h2v1h-2zM76 80h1v1h-1zM83 80h1v1h-1zM90 80h1v1h-1zM93 80h1v1h-1zM111 80h1v1h-1zM10 81h1v1h-1zM56 81h1v1h-1zM59 81h1v1h-1zM61 81h1v1h-1zM68 81h1v1h-1zM72 81h2v1h-2zM76 81h1v1h-1zM88 81h1v1h-1zM102 81h1v1h-1zM116 81h1v1h-1zM2 82h1v1h-1zM4 82h1v1h-1zM19 82h1v1h-1zM65 82h1v1h-1zM68 82h1v1h-1zM72 82h1v1h-1zM76 82h1v1h-1zM88 82h1v1h-1zM92 82h1v1h-1zM94 82h1v1h-1zM102 82h1v1h-1zM135 82h1v1h-1zM5 83h1v1h-1zM12 83h1v1h-1zM15 83h1v1h-1zM21 83h1v1h-1zM27 83h1v1h-1zM51 83h2v1h-2zM58 83h1v1h-1zM70 83h1v1h-1zM75 83h1v1h-1zM83 83h1v1h-1zM93 83h1v1h-1zM121 83h1v1h-1zM51 84h2v1h-2zM60 84h1v1h-1zM63 84h2v1h-2zM67 84h1v1h-1zM70 84h1v1h-1zM73 84h1v1h-1zM76 84h1v1h-1zM84 84h1v1h-1zM87 84h1v1h-1zM95 84h1v1h-1zM113 84h1v1h-1zM116 84h1v1h-1zM126 84h1v1h-1zM135 84h1v1h-1zM50 85h2v1h-2zM64 85h1v1h-1zM67 85h1v1h-1zM69 85h1v1h-1zM78 85h1v1h-1zM83 85h1v1h-1zM89 85h1v1h-1zM96 85h1v1h-1zM98 85h1v1h-1zM127 85h1v1h-1zM14 86h1v1h-1zM47 86h2v1h-2zM51 86h1v1h-1zM55 86h1v1h-1zM57 86h1v1h-1zM59 86h1v1h-1zM64 86h1v1h-1zM69 86h1v1h-1zM72 86h2v1h-2zM79 86h1v1h-1zM81 86h1v1h-1zM90 86h1v1h-1zM135 86h1v1h-1zM58 87h1v1h-1zM62 87h1v1h-1zM64 87h1v1h-1zM66 87h1v1h-1zM72 87h1v1h-1zM78 87h1v1h-1zM81 87h2v1h-2zM84 87h1v1h-1zM134 87h1v1h-1zM54 88h2v1h-2zM57 88h1v1h-1zM59 88h1v1h-1zM65 88h1v1h-1zM69 88h2v1h-2zM74 88h1v1h-1zM76 88h2v1h-2zM81 88h1v1h-1zM83 88h1v1h-1zM99 88h1v1h-1zM101 88h1v1h-1zM3 89h1v1h-1zM17 89h1v1h-1zM52 89h1v1h-1zM56 89h3v1h-3zM69 89h1v1h-1zM72 89h1v1h-1zM82 89h1v1h-1zM85 89h2v1h-2zM91 89h1v1h-1zM93 89h1v1h-1zM96 89h1v1h-1zM98 89h1v1h-1zM106 89h1v1h-1zM112 89h1v1h-1zM1 90h1v1h-1zM48 90h1v1h-1zM57 90h1v1h-1zM66 90h2v1h-2zM69 90h1v1h-1zM87 90h1v1h-1zM93 90h1v1h-1zM126 90h1v1h-1zM40 91h1v1h-1zM46 91h1v1h-1zM59 91h2v1h-2zM67 91h1v1h-1zM77 91h1v1h-1zM80 91h1v1h-1zM85 91h1v1h-1zM89 91h2v1h-2zM55 92h3v1h-3zM67 92h1v1h-1zM77 92h1v1h-1zM80 92h1v1h-1zM82 92h3v1h-3zM86 92h1v1h-1zM88 92h2v1h-2zM95 92h1v1h-1zM100 92h1v1h-1zM31 93h1v1h-1zM44 93h1v1h-1zM48 93h2v1h-2zM53 93h1v1h-1zM61 93h1v1h-1zM64 93h1v1h-1zM73 93h1v1h-1zM79 93h2v1h-2zM83 93h2v1h-2zM86 93h1v1h-1zM97 93h1v1h-1zM99 93h1v1h-1zM7 94h1v1h-1zM48 94h2v1h-2zM53 94h1v1h-1zM55 94h1v1h-1zM63 94h1v1h-1zM65 94h1v1h-1zM71 94h1v1h-1zM76 94h1v1h-1zM81 94h1v1h-1zM84 94h1v1h-1zM88 94h1v1h-1zM91 94h1v1h-1zM97 94h1v1h-1zM21 95h1v1h-1zM45 95h1v1h-1zM48 95h1v1h-1zM50 95h1v1h-1zM55 95h1v1h-1zM60 95h1v1h-1zM66 95h1v1h-1zM70 95h1v1h-1zM78 95h1v1h-1zM83 95h2v1h-2zM41 96h1v1h-1zM44 96h1v1h-1zM53 96h1v1h-1zM55 96h1v1h-1zM58 96h1v1h-1zM67 96h1v1h-1zM72 96h2v1h-2zM77 96h1v1h-1zM79 96h1v1h-1zM83 96h1v1h-1zM104 96h1v1h-1zM112 96h1v1h-1zM128 96h1v1h-1zM18 97h1v1h-1zM41 97h1v1h-1zM44 97h1v1h-1zM49 97h1v1h-1zM57 97h1v1h-1zM60 97h5v1h-5zM71 97h1v1h-1zM75 97h2v1h-2zM78 97h1v1h-1zM84 97h1v1h-1zM87 97h1v1h-1zM14 98h1v1h-1zM33 98h1v1h-1zM41 98h1v1h-1zM44 98h1v1h-1zM48 98h1v1h-1zM53 98h1v1h-1zM59 98h1v1h-1zM68 98h1v1h-1zM72 98h1v1h-1zM79 98h1v1h-1zM34 99h1v1h-1zM47 99h1v1h-1zM52 99h1v1h-1zM55 99h1v1h-1zM58 99h2v1h-2zM63 99h1v1h-1zM68 99h1v1h-1zM73 99h1v1h-1zM83 99h1v1h-1zM92 99h1v1h-1zM9 100h1v1h-1zM31 100h1v1h-1zM44 100h1v1h-1zM54 100h2v1h-2zM58 100h2v1h-2zM61 100h1v1h-1zM63 100h1v1h-1zM69 100h2v1h-2zM73 100h1v1h-1zM80 100h1v1h-1zM82 100h1v1h-1zM93 100h1v1h-1zM34 101h1v1h-1zM42 101h1v1h-1zM52 101h2v1h-2zM56 101h1v1h-1zM67 101h3v1h-3zM79 101h2v1h-2zM82 101h1v1h-1zM85 101h1v1h-1zM102 101h2v1h-2zM33 102h1v1h-1zM38 102h1v1h-1zM42 102h1v1h-1zM50 102h1v1h-1zM54 102h1v1h-1zM58 102h1v1h-1zM68 102h1v1h-1zM70 102h1v1h-1zM73 102h1v1h-1zM79 102h1v1h-1zM81 102h1v1h-1zM83 102h1v1h-1zM92 102h1v1h-1zM120 102h1v1h-1zM40 103h1v1h-1zM49 103h3v1h-3zM54 103h1v1h-1zM57 103h1v1h-1zM67 103h1v1h-1zM70 103h1v1h-1zM72 103h1v1h-1zM74 103h1v1h-1zM81 103h1v1h-1zM85 103h1v1h-1zM15 104h1v1h-1zM45 104h1v1h-1zM48 104h1v1h-1zM55 104h1v1h-1zM57 104h1v1h-1zM59 104h1v1h-1zM62 104h1v1h-1zM69 104h1v1h-1zM74 104h1v1h-1zM76 104h1v1h-1zM49 105h1v1h-1zM57 105h1v1h-1zM65 105h2v1h-2zM19 106h1v1h-1zM35 106h1v1h-1zM42 106h1v1h-1zM48 106h1v1h-1zM62 106h2v1h-2zM65 106h1v1h-1zM67 106h1v1h-1zM79 106h1v1h-1zM83 106h1v1h-1zM86 106h1v1h-1zM53 107h1v1h-1zM59 107h1v1h-1zM74 107h1v1h-1zM78 107h1v1h-1zM44 108h1v1h-1zM48 108h2v1h-2zM53 108h1v1h-1zM62 108h1v1h-1zM64 108h1v1h-1zM72 108h1v1h-1zM80 108h1v1h-1zM96 108h1v1h-1zM39 109h1v1h-1zM46 109h1v1h-1zM50 109h1v1h-1zM56 109h1v1h-1zM65 109h1v1h-1zM67 109h1v1h-1zM78 109h1v1h-1zM48 110h1v1h-1zM50 110h1v1h-1zM60 110h1v1h-1zM62 110h1v1h-1zM65 110h2v1h-2zM68 110h1v1h-1zM70 110h1v1h-1zM75 110h1v1h-1zM82 110h1v1h-1zM99 110h1v1h-1zM17 111h1v1h-1zM22 111h1v1h-1zM41 111h1v1h-1zM46 111h1v1h-1zM66 111h1v1h-1zM73 111h1v1h-1zM80 111h1v1h-1zM29 112h1v1h-1zM32 112h1v1h-1zM43 112h2v1h-2zM55 112h1v1h-1zM62 112h1v1h-1zM71 112h2v1h-2zM77 112h1v1h-1zM79 112h1v1h-1zM83 112h1v1h-1zM135 112h1v1h-1zM28 113h1v1h-1zM34 113h1v1h-1zM44 113h1v1h-1zM54 113h2v1h-2zM68 113h1v1h-1zM77 113h1v1h-1zM80 113h1v1h-1zM95 113h1v1h-1zM99 113h1v1h-1zM104 113h1v1h-1zM26 114h1v1h-1zM32 114h1v1h-1zM49 114h1v1h-1zM55 114h1v1h-1zM74 114h3v1h-3zM83 114h1v1h-1zM30 115h1v1h-1zM49 115h1v1h-1zM51 115h1v1h-1zM58 115h1v1h-1zM61 115h1v1h-1zM69 115h1v1h-1zM77 115h1v1h-1zM80 115h1v1h-1zM83 115h1v1h-1zM87 115h1v1h-1zM125 115h1v1h-1zM34 116h1v1h-1zM43 116h1v1h-1zM55 116h1v1h-1zM57 116h1v1h-1zM72 116h1v1h-1zM80 116h1v1h-1zM29 117h1v1h-1zM37 117h1v1h-1zM44 117h1v1h-1zM52 117h1v1h-1zM60 117h1v1h-1zM86 117h1v1h-1zM20 118h1v1h-1zM49 118h2v1h-2zM64 118h1v1h-1zM66 118h1v1h-1zM72 118h1v1h-1zM98 118h1v1h-1zM109 118h1v1h-1zM129 118h1v1h-1zM15 119h1v1h-1zM48 119h1v1h-1zM64 119h1v1h-1zM70 119h1v1h-1zM75 119h1v1h-1zM99 119h1v1h-1zM107 119h1v1h-1zM15 120h1v1h-1zM62 120h1v1h-1zM73 120h1v1h-1zM75 120h1v1h-1zM129 120h1v1h-1zM2 121h1v1h-1zM47 121h1v1h-1zM57 121h1v1h-1zM59 121h1v1h-1zM62 121h1v1h-1zM74 121h1v1h-1zM85 121h1v1h-1zM16 122h1v1h-1zM74 122h1v1h-1zM89 122h1v1h-1zM102 122h1v1h-1zM108 122h1v1h-1zM135 122h1v1h-1zM54 123h1v1h-1zM56 123h1v1h-1zM69 123h1v1h-1zM107 123h1v1h-1zM39 124h1v1h-1zM42 124h1v1h-1zM82 124h1v1h-1zM87 124h1v1h-1zM125 124h1v1h-1zM128 124h1v1h-1zM67 125h1v1h-1zM99 125h1v1h-1zM56 126h1v1h-1zM58 126h1v1h-1zM66 126h1v1h-1zM126 126h1v1h-1zM34 127h1v1h-1zM46 127h1v1h-1zM55 127h1v1h-1zM61 127h1v1h-1zM85 127h1v1h-1zM90 127h1v1h-1zM37 128h1v1h-1zM56 128h1v1h-1zM83 128h1v1h-1zM104 129h1v1h-1zM28 130h1v1h-1zM89 130h1v1h-1zM31 131h1v1h-1zM33 131h1v1h-1zM41 131h1v1h-1zM66 131h1v1h-1zM42 132h1v1h-1zM63 132h1v1h-1zM35 133h1v1h-1zM53 133h1v1h-1zM59 133h1v1h-1zM47 134h1v1h-1zM17 135h1v1h-1zM121 136h1v1h-1zM123 136h1v1h-1zM92 137h1v1h-1zM118 137h1v1h-1zM30 138h1v1h-1zM52 138h1v1h-1zM57 138h1v1h-1zM90 138h1v1h-1zM26 139h1v1h-1zM47 139h1v1h-1zM104 139h1v1h-1zM18 140h1v1h-1zM21 140h1v1h-1zM101 140h1v1h-1zM127 140h1v1h-1zM104 141h1v1h-1zM16 142h1v1h-1zM8 143h1v1h-1zM52 143h1v1h-1zM75 143h1v1h-1zM34 144h1v1h-1zM60 144h1v1h-1zM45 145h1v1h-1zM71 146h1v1h-1zM27 147h1v1h-1zM32 147h1v1h-1zM46 147h1v1h-1zM61 147h1v1h-1zM74 148h1v1h-1zM82 148h1v1h-1zM114 148h1v1h-1zM0 149h1v1h-1zM63 149h1v1h-1zM75 149h1v1h-1zM127 149h1v1h-1z"/>
<path fill="#00aaff" d="M73 2h1v1h-1zM61 3h1v1h-1zM82 4h1v1h-1zM119 7h1v1h-1zM64 8h1v1h-1zM88 10h1v1h-1zM70 13h1v1h-1zM89 14h1v1h-1zM97 15h1v1h-1zM100 18h1v1h-1zM103 18h1v1h-1zM84 19h1v1h-1zM84 22h1v1h-1zM88 23h1v1h-1zM76 35h1v1h-1zM76 38h1v1h-1zM74 45h1v1h-1zM50 71h1v1h-1zM48 73h1v1h-1zM47 76h1v1h-1zM40 77h1v1h-1zM36 80h1v1h-1zM34 81h1v1h-1z"/>
<path fill="#0055ff" d="M123 2h1v1h-1zM130 3h1v1h-1zM97 4h1v1h-1zM123 4h1v1h-1zM132 5h1v1h-1zM93 7h1v1h-1zM103 8h1v1h-1zM81 11h1v1h-1zM87 12h2v1h-2zM93 15h1v1h-1zM109 18h1v1h-1zM128 19h1v1h-1zM100 23h1v1h-1zM91 25h1v1h-1zM92 27h1v1h-1zM103 30h1v1h-1zM80 31h1v1h-1zM84 35h2v1h-2zM92 35h1v1h-1zM63 60h1v1h-1zM54 71h1v1h-1zM44 81h1v1h-1zM42 82h1v1h-1zM39 83h1v1h-1zM37 84h1v1h-1zM39 87h1v1h-1z"/>
<path fill="#0044ff" d="M129 2h1v1h-1zM133 4h1v1h-1zM88 11h1v1h-1zM89 12h1v1h-1zM97 16h1v1h-1zM113 22h1v1h-1zM89 23h1v1h-1zM116 24h1v1h-1zM97 25h1v1h-1zM102 26h1v1h-1zM84 27h2v1h-2zM84 28h1v1h-1zM88 28h1v1h-1zM78 32h1v1h-1zM84 32h1v1h-1zM78 33h1v1h-1zM82 34h1v1h-1zM67 53h1v1h-1zM52 73h1v1h-1zM49 74h1v1h-1zM45 77h1v1h-1zM43 81h1v1h-1zM45 81h1v1h-1zM42 85h1v1h-1zM33 87h1v1h-1zM36 89h1v1h-1z"/>
<path fill="#0077ff" d="M92 3h1v1h-1zM126 5h1v1h-1zM106 10h1v1h-1zM70 12h1v1h-1zM121 17h1v1h-1zM102 18h1v1h-1zM99 19h1v1h-1zM109 19h1v1h-1zM94 20h1v1h-1zM104 20h1v1h-1zM86 24h1v1h-1zM101 24h1v1h-1zM86 26h1v1h-1zM86 28h1v1h-1zM83 30h1v1h-1zM81 31h1v1h-1zM112 32h1v1h-1zM83 33h1v1h-1zM108 34h1v1h-1zM72 48h1v1h-1zM70 49h1v1h-1zM68 52h1v1h-1zM62 60h1v1h-1zM52 69h1v1h-1zM56 69h1v1h-1zM43 79h1v1h-1zM46 79h1v1h-1zM41 80h1v1h-1zM43 80h1v1h-1zM39 82h1v1h-1zM43 83h1v1h-1zM26 90h1v1h-1zM40 92h1v1h-1z"/>
<path fill="#0099ff" d="M111 3h1v1h-1zM76 6h1v1h-1zM94 10h1v1h-1zM66 12h1v1h-1zM133 12h1v1h-1zM125 13h1v1h-1zM105 14h1v1h-1zM123 16h1v1h-1zM111 18h1v1h-1zM91 19h1v1h-1zM109 20h1v1h-1zM85 21h1v1h-1zM85 23h1v1h-1zM91 24h1v1h-1zM106 25h1v1h-1zM92 26h1v1h-1zM90 27h1v1h-1zM81 30h1v1h-1zM77 35h1v1h-1zM73 44h1v1h-1zM51 74h1v1h-1zM44 76h1v1h-1zM41 77h1v1h-1zM43 77h1v1h-1zM47 78h1v1h-1zM38 83h1v1h-1zM45 83h1v1h-1zM36 84h1v1h-1zM41 85h1v1h-1zM38 87h1v1h-1zM22 90h1v1h-1zM31 91h1v1h-1zM35 91h1v1h-1z"/>
<path fill="#00bbff" d="M88 6h1v1h-1zM96 9h1v1h-1zM82 10h1v1h-1zM96 12h1v1h-1zM84 17h1v1h-1zM81 28h1v1h-1zM79 30h1v1h-1zM61 60h1v1h-1zM47 71h1v1h-1zM52 71h1v1h-1zM47 74h1v1h-1zM33 78h1v1h-1zM40 79h1v1h-1zM42 80h1v1h-1zM42 83h1v1h-1z"/>
<path fill="#00ccff" d="M91 6h1v1h-1zM72 12h1v1h-1zM78 16h1v1h-1zM77 17h1v1h-1zM80 19h1v1h-1zM87 20h1v1h-1zM79 21h1v1h-1zM79 31h1v1h-1zM61 61h1v1h-1zM55 65h1v1h-1zM51 69h1v1h-1zM46 75h1v1h-1zM39 79h1v1h-1z"/>
<path fill="#00ddff" d="M79 7h1v1h-1zM87 11h1v1h-1zM82 22h1v1h-1zM83 23h1v1h-1zM85 26h1v1h-1zM71 46h1v1h-1zM64 54h1v1h-1zM57 65h1v1h-1zM54 68h1v1h-1zM44 70h1v1h-1zM27 75h1v1h-1zM40 75h1v1h-1zM31 77h1v1h-1zM44 78h1v1h-1zM33 79h1v1h-1zM39 80h1v1h-1z"/>
<path fill="#0033ff" d="M99 9h1v1h-1zM110 14h1v1h-1zM100 15h1v1h-1zM95 16h1v1h-1zM94 17h1v1h-1zM95 20h1v1h-1zM90 25h1v1h-1zM130 26h1v1h-1zM83 31h1v1h-1zM81 32h1v1h-1zM79 35h1v1h-1zM73 46h1v1h-1zM64 57h1v1h-1zM52 72h1v1h-1zM48 80h1v1h-1zM47 81h1v1h-1z"/>
<path fill="#00ffff" d="M78 10h1v1h-1zM93 11h1v1h-1zM63 12h1v1h-1zM73 17h1v1h-1zM76 26h1v1h-1zM65 54h1v1h-1zM48 68h1v1h-1zM45 74h1v1h-1zM34 77h1v1h-1zM31 81h1v1h-1z"/>
<path fill="#11ffee" d="M65 11h1v1h-1zM86 12h1v1h-1zM75 23h1v1h-1zM81 23h1v1h-1zM82 24h1v1h-1zM80 25h1v1h-1zM77 26h1v1h-1zM69 49h1v1h-1zM55 63h1v1h-1zM39 73h1v1h-1zM35 74h1v1h-1zM37 74h1v1h-1zM31 76h1v1h-1zM34 76h1v1h-1zM42 77h1v1h-1zM37 78h1v1h-1zM41 78h1v1h-1zM31 79h1v1h-1z"/>
<path fill="#ddff22" d="M66 11h1v1h-1zM65 51h1v1h-1zM41 58h1v1h-1zM58 59h1v1h-1zM45 63h1v1h-1zM40 64h1v1h-1zM41 65h1v1h-1z"/>
<path fill="#99ff66" d="M69 11h1v1h-1zM72 25h1v1h-1zM74 29h1v1h-1zM65 52h1v1h-1zM45 64h1v1h-1zM53 64h1v1h-1zM37 66h1v1h-1zM43 68h1v1h-1zM38 69h1v1h-1zM38 70h1v1h-1z"/>
<path fill="#ffdd00" d="M76 11h1v1h-1zM63 27h1v1h-1zM63 28h1v1h-1zM72 31h1v1h-1zM55 47h1v1h-1zM65 47h1v1h-1zM38 48h1v1h-1zM60 49h1v1h-1zM45 50h1v1h-1zM60 50h1v1h-1zM59 52h1v1h-1zM60 53h2v1h-2zM44 54h1v1h-1zM52 54h1v1h-1zM60 55h1v1h-1zM41 56h1v1h-1zM46 62h1v1h-1zM52 62h1v1h-1zM47 63h1v1h-1zM36 64h1v1h-1zM39 65h1v1h-1zM45 65h1v1h-1z"/>
<path fill="#33ffcc" d="M78 11h1v1h-1zM75 27h1v1h-1zM74 40h1v1h-1zM62 57h1v1h-1zM57 61h1v1h-1zM43 70h1v1h-1zM47 70h1v1h-1zM36 72h1v1h-1zM32 74h1v1h-1zM36 74h1v1h-1zM41 76h1v1h-1zM38 77h1v1h-1zM35 78h2v1h-2z"/>
<path fill="#22ffdd" d="M79 11h1v1h-1zM67 12h1v1h-1zM77 31h1v1h-1zM72 45h1v1h-1zM70 48h1v1h-1zM47 68h1v1h-1zM37 71h1v1h-1zM36 77h2v1h-2zM37 79h1v1h-1z"/>
<path fill="#44ffbb" d="M75 19h1v1h-1zM76 23h1v1h-1zM74 24h1v1h-1zM75 36h1v1h-1zM45 69h1v1h-1zM37 70h1v1h-1zM44 72h1v1h-1z"/>
<path fill="#55ffaa" d="M76 20h1v1h-1zM74 28h1v1h-1zM73 42h1v1h-1zM61 57h1v1h-1zM61 58h1v1h-1zM37 68h1v1h-1zM42 69h1v1h-1zM41 70h1v1h-1zM35 76h2v1h-2z"/>
<path fill="#00eeff" d="M85 20h1v1h-1zM78 22h1v1h-1zM81 29h1v1h-1zM76 37h1v1h-1zM75 39h1v1h-1zM75 40h1v1h-1zM72 46h1v1h-1zM69 48h1v1h-1zM68 51h1v1h-1zM47 69h1v1h-1zM31 73h1v1h-1zM34 75h1v1h-1zM36 75h1v1h-1zM32 76h1v1h-1zM31 80h1v1h-1z"/>
<path fill="#77ff88" d="M68 21h1v1h-1zM70 25h1v1h-1zM60 59h1v1h-1zM54 64h1v1h-1zM48 67h2v1h-2zM45 70h1v1h-1zM40 72h1v1h-1z"/>
<path fill="#66ff99" d="M76 21h1v1h-1zM60 57h1v1h-1zM58 60h1v1h-1zM34 72h1v1h-1z"/>
<path fill="#ff8800" d="M64 28h1v1h-1zM70 41h1v1h-1zM56 43h1v1h-1zM59 43h1v1h-1zM64 45h1v1h-1zM52 46h1v1h-1zM51 48h1v1h-1zM52 50h1v1h-1zM40 51h1v1h-1zM55 51h1v1h-1zM59 51h1v1h-1zM45 52h1v1h-1zM47 57h1v1h-1zM36 59h1v1h-1z"/>
<path fill="#ffaa00" d="M65 28h1v1h-1zM55 44h1v1h-1zM60 46h1v1h-1zM57 50h1v1h-1zM48 52h1v1h-1zM47 54h1v1h-1zM53 54h1v1h-1zM35 55h1v1h-1zM56 55h1v1h-1zM48 56h1v1h-1zM57 56h1v1h-1zM40 57h1v1h-1zM46 57h1v1h-1zM52 57h1v1h-1zM47 60h1v1h-1zM42 62h1v1h-1z"/>
<path fill="#eeff11" d="M67 28h1v1h-1zM73 28h1v1h-1zM73 31h2v1h-2zM69 46h1v1h-1zM42 59h1v1h-1zM45 60h1v1h-1zM39 64h1v1h-1zM47 65h1v1h-1zM38 67h1v1h-1z"/>
<path fill="#ffee00" d="M70 28h1v1h-1zM73 35h1v1h-1zM69 43h1v1h-1zM64 47h1v1h-1zM54 48h1v1h-1zM39 51h1v1h-1zM46 52h1v1h-1zM54 54h1v1h-1zM61 54h1v1h-1zM34 55h1v1h-1zM57 55h2v1h-2zM38 56h1v1h-1zM47 56h1v1h-1zM54 57h1v1h-1zM54 58h1v1h-1zM55 59h1v1h-1zM55 61h1v1h-1zM41 62h1v1h-1zM40 65h1v1h-1z"/>
<path fill="#ccff33" d="M71 29h1v1h-1zM74 36h1v1h-1zM73 40h1v1h-1zM71 42h1v1h-1zM55 62h1v1h-1zM43 66h1v1h-1zM43 67h1v1h-1z"/>
<path fill="#88ff77" d="M77 29h1v1h-1zM67 48h1v1h-1zM49 65h1v1h-1zM42 70h1v1h-1zM39 72h1v1h-1z"/>
<path fill="#0000ee" d="M87 29h1v1h-1zM85 32h1v1h-1zM105 33h1v1h-1zM84 34h1v1h-1zM86 34h1v1h-1zM59 66h1v1h-1zM40 90h1v1h-1z"/>
<path fill="#ff0000" d="M62 32h1v1h-1zM66 36h1v1h-1zM67 38h1v1h-1zM55 41h1v1h-1zM62 41h1v1h-1z"/>
<path fill="#ff1100" d="M66 33h1v1h-1zM68 39h1v1h-1zM56 41h1v1h-1zM66 42h1v1h-1z"/>
<path fill="#ff4400" d="M64 34h1v1h-1zM71 38h1v1h-1zM60 39h1v1h-1zM70 39h1v1h-1zM58 40h1v1h-1zM52 42h1v1h-1zM64 42h1v1h-1zM62 43h1v1h-1z"/>
<path fill="#ff3300" d="M68 34h1v1h-1zM63 36h1v1h-1zM69 36h1v1h-1zM66 39h1v1h-1zM55 43h1v1h-1z"/>
<path fill="#ff9900" d="M69 34h1v1h-1zM69 41h1v1h-1zM56 42h1v1h-1zM61 44h2v1h-2zM44 47h1v1h-1zM50 47h1v1h-1zM63 48h1v1h-1zM55 49h1v1h-1zM43 50h1v1h-1zM62 50h1v1h-1zM38 51h1v1h-1zM52 51h1v1h-1zM56 53h1v1h-1zM44 60h1v1h-1zM49 60h1v1h-1zM43 61h1v1h-1z"/>
<path fill="#ffbb00" d="M70 34h1v1h-1zM68 42h1v1h-1zM50 45h1v1h-1zM58 46h1v1h-1zM57 49h1v1h-1zM64 49h1v1h-1zM63 50h1v1h-1zM51 51h1v1h-1zM38 55h1v1h-1zM36 56h1v1h-1zM58 56h1v1h-1zM57 58h1v1h-1zM35 63h1v1h-1zM44 63h1v1h-1z"/>
<path fill="#bbff44" d="M74 34h1v1h-1zM53 61h1v1h-1zM35 66h1v1h-1zM42 67h1v1h-1zM36 68h1v1h-1zM36 69h1v1h-1z"/>
<path fill="#ff5500" d="M68 35h1v1h-1zM71 37h1v1h-1zM57 43h1v1h-1zM65 43h1v1h-1zM64 44h1v1h-1zM54 45h1v1h-1zM55 46h1v1h-1zM43 49h1v1h-1zM59 50h1v1h-1zM45 51h1v1h-1z"/>
<path fill="#0000dd" d="M124 35h1v1h-1zM55 71h1v1h-1zM42 90h1v1h-1z"/>
<path fill="#ffff00" d="M72 36h1v1h-1zM73 39h1v1h-1zM66 47h1v1h-1zM43 52h1v1h-1zM58 54h1v1h-1zM61 55h1v1h-1zM56 57h1v1h-1zM40 63h1v1h-1zM46 64h1v1h-1z"/>
<path fill="#cc0000" d="M65 37h1v1h-1z"/>
<path fill="#ee0000" d="M64 38h1v1h-1zM61 39h1v1h-1z"/>
<path fill="#ffcc00" d="M73 38h1v1h-1zM67 43h1v1h-1zM41 46h1v1h-1zM53 50h1v1h-1zM58 52h1v1h-1zM43 55h1v1h-1zM47 55h1v1h-1zM56 56h1v1h-1zM58 57h1v1h-1zM40 59h1v1h-1zM49 59h1v1h-1zM38 64h1v1h-1z"/>
<path fill="#ff6600" d="M69 39h1v1h-1zM62 40h1v1h-1zM63 44h1v1h-1zM44 48h1v1h-1zM59 48h1v1h-1zM38 49h1v1h-1zM51 50h1v1h-1zM42 52h1v1h-1zM54 52h1v1h-1zM52 53h1v1h-1zM41 54h1v1h-1zM48 54h1v1h-1zM57 54h1v1h-1z"/>
<path fill="#ff2200" d="M58 42h1v1h-1z"/>
<path fill="#ff7700" d="M57 44h1v1h-1zM57 45h1v1h-1zM42 49h1v1h-1zM59 49h1v1h-1zM35 54h1v1h-1zM55 54h1v1h-1zM42 56h1v1h-1z"/>
<path fill="#aaff55" d="M70 45h1v1h-1zM36 65h1v1h-1zM46 67h1v1h-1zM40 69h1v1h-1zM39 70h1v1h-1z"/>
</g>
<path d="M837.4 83.0L842.9 84.0L840.1 100.4L847.5 100.4L853.0 98.2L860.3 95.0L864.0 94.0L864.9 74.8L878.2 73.9L879.0 60.1L853.0 57.4L852.0 51.5L851.9 50.0L856.3 52.2L859.6 54.4L866.2 54.4L877.1 50.0L882.6 50.0L884.3 51.7L884.8 66.0L889.6 67.8L894.2 66.6L896.9 54.7L900.6 53.2L915.2 53.7L917.0 65.6L907.5 80.0L902.9 83.7L902.0 88.2L903.8 90.0L900.1 96.5L900.1 102.0L902.9 109.3L909.3 111.1L915.7 105.6L917.5 107.5L915.7 116.6L915.7 123.0L911.1 127.6L907.5 133.1L910.2 139.5L919.8 143.1L909.5 144.1L897.1 145.2L888.9 146.2L885.8 149.3L885.8 152.4L890.9 155.5L893.0 162.7L897.1 166.8L906.4 168.9L913.6 173.0L909.5 174.0L904.3 176.1L900.2 181.2L898.1 187.4L901.2 191.5L909.5 192.6L908.5 199.8L909.5 206.0L912.6 212.2L916.7 219.4L921.9 220.4L930.1 221.4L933.6 221.4L937.1 225.5L941.2 232.4L942.6 235.1L939.8 238.5L934.3 239.2L930.2 243.3L928.1 248.8L922.7 250.9L917.8 254.3L912.4 257.8L908.2 261.2L906.9 265.3L904.1 270.8L900.0 273.5L898.6 276.9L897.4 283.7L899.7 290.6L896.3 292.9L890.6 297.4L892.9 304.3L896.3 308.9L895.1 316.9L887.1 315.7L876.9 313.4L870.0 314.6L866.6 322.6L863.1 330.6L864.3 335.1L859.7 338.6L851.7 340.9L842.4 342.4L840.1 350.4L835.6 356.1L826.4 358.4L823.0 363.0L821.8 368.7L815.0 373.3L809.2 379.0L803.5 382.4L801.2 385.9L795.0 388.7L793.2 390.5L788.6 386.8L784.9 385.9L781.3 382.2L773.9 377.7L768.4 374.0L770.3 363.9L774.9 363.0L773.9 359.4L775.8 354.8L782.2 354.8L788.6 352.0L790.4 347.5L793.2 339.2L790.4 335.6L784.0 335.3L782.2 336.5L781.4 339.5L775.9 339.5L774.1 333.1L770.4 333.1L769.5 350.5L759.4 352.3L739.3 352.3L736.5 350.5L737.5 341.3L743.9 340.4L744.8 327.6L751.2 325.8L754.9 317.5L744.8 316.6L743.9 305.6L733.8 305.6L733.8 315.7L721.0 314.8L721.0 306.5L743.0 291.5L759.4 291.3L760.3 281.4L762.8 271.4L767.8 265.1L775.4 260.1L777.5 256.5L772.7 255.7L770.2 252.0L772.7 248.1L771.4 240.6L768.9 234.3L768.9 223.0L765.2 220.4L760.1 219.2L758.9 230.5L753.8 230.5L755.1 206.6L763.9 202.8L765.2 191.5L766.4 182.7L763.9 175.2L761.4 165.1L762.2 158.0L772.8 156.5L773.7 144.0L774.3 133.9L778.3 135.7L783.8 139.4L793.8 140.3L794.8 151.3L804.8 154.0L804.8 144.9L803.0 135.7L803.9 129.3L814.0 128.4L814.9 122.9L825.8 122.6L827.7 117.4L832.3 101.0ZM732.9 271.2L745.6 270.3L746.6 291.4L733.2 291.4Z" fill="none" stroke="#000" stroke-width="1.3" stroke-linejoin="round"/>
<g fill="#000"><rect x="-2" y="-2" width="4" height="4" transform="translate(839.3 170.9) rotate(45)"/><rect x="-2" y="-2" width="4" height="4" transform="translate(832.5 180) rotate(45)"/><rect x="-2" y="-2" width="4" height="4" transform="translate(822.1 191.3) rotate(45)"/></g>
<path d="M819.6 198.5C820.5 204 820 208 818.4 212.9S813.5 221.5 811.2 225.7" stroke="#000" stroke-width="3.6" fill="none" stroke-linecap="round"/>
<path d="M932.0 57.0L901.0 98.0M929.6 60.2l-3.7 -2.8M921.9 70.3l-3.7 -2.8M914.3 80.5l-3.7 -2.8M906.6 90.6l-3.7 -2.8" stroke="#ff0000" stroke-width="2" fill="none"/>
<path d="M985.0 59.2L890.6 187.3M982.6 62.4l-3.7 -2.7M975.1 72.6l-3.7 -2.7M967.6 82.9l-3.7 -2.7M960.0 93.1l-3.7 -2.7M952.5 103.3l-3.7 -2.7M945.0 113.5l-3.7 -2.7M937.4 123.8l-3.7 -2.7M929.9 134.0l-3.7 -2.7M922.4 144.2l-3.7 -2.7M914.8 154.4l-3.7 -2.7M907.3 164.7l-3.7 -2.7M899.8 174.9l-3.7 -2.7M892.2 185.1l-3.7 -2.7" stroke="#ff0000" stroke-width="2" fill="none"/>
<path d="M936.8 230.7L850.1 359.1M934.6 234.0l-3.8 -2.6M927.5 244.5l-3.8 -2.6M920.3 255.1l-3.8 -2.6M913.2 265.6l-3.8 -2.6M906.1 276.1l-3.8 -2.6M899.0 286.6l-3.8 -2.6M891.9 297.2l-3.8 -2.6M884.8 307.7l-3.8 -2.6M877.7 318.2l-3.8 -2.6M870.6 328.7l-3.8 -2.6M863.5 339.3l-3.8 -2.6M856.4 349.8l-3.8 -2.6" stroke="#ff0000" stroke-width="2" fill="none"/>
<circle cx="836.2" cy="113.6" r="7.2" fill="none" stroke="#000" stroke-width="3"/>
<circle cx="829.2" cy="162.2" r="7.5" fill="none" stroke="#000" stroke-width="3"/>
<circle cx="831.2" cy="326.9" r="7.5" fill="none" stroke="#000" stroke-width="3"/>
<text x="820.8" y="112.2" text-anchor="middle" font-size="15.5" fill="#000" stroke="#000" stroke-width="0.35">C</text>
<text x="811.6" y="166.9" text-anchor="middle" font-size="15.5" fill="#000" stroke="#000" stroke-width="0.35">B</text>
<text x="816.8" y="321.8" text-anchor="middle" font-size="15.5" fill="#000" stroke="#000" stroke-width="0.35">A</text>
<rect x="681.6" y="26.6" width="145.6" height="40.6" fill="#fff"/>
<path d="M704.6 45V38.8H803.9V45M754.2 38.8V45" stroke="#222" stroke-width="1.3" fill="none"/>
<g font-weight="bold" font-size="10.2" fill="#111"><text x="704.6" y="58.7" text-anchor="middle">0</text><text x="754.2" y="58.7" text-anchor="middle">1</text><text x="800.6" y="58.7">2 km</text></g>
<path d="M689.8 63V28.8L695 43.2L689.8 40.6" stroke="#333" stroke-width="1.1" fill="none" stroke-linejoin="miter"/>
<text x="690.1" y="60.3" text-anchor="middle" font-size="11.5" fill="#222" stroke="#222" stroke-width="0.3">N</text>
</g>
<rect x="677.3" y="22.7" width="338.5" height="373.7" fill="none" stroke="#111" stroke-width="1.9"/>
<path d="M672 111.4H677M672 221.4H677M672 331.4H677M770 396V401M880 396V401M990 396V401" stroke="#000" stroke-width="1.3"/>
<text x="770" y="415" text-anchor="middle" font-size="12.5" fill="#222">-103.48°</text>
<text x="880" y="415" text-anchor="middle" font-size="12.5" fill="#222">-103.46°</text>
<text x="990" y="415" text-anchor="middle" font-size="12.5" fill="#222">-103.44°</text>
<text transform="translate(668 111.4) rotate(-90)" text-anchor="middle" font-size="12.5" fill="#222">19.72°</text>
<text transform="translate(668 221.4) rotate(-90)" text-anchor="middle" font-size="12.5" fill="#222">19.7°</text>
<text transform="translate(668 331.4) rotate(-90)" text-anchor="middle" font-size="12.5" fill="#222">19.68°</text>
</svg></body></html>
